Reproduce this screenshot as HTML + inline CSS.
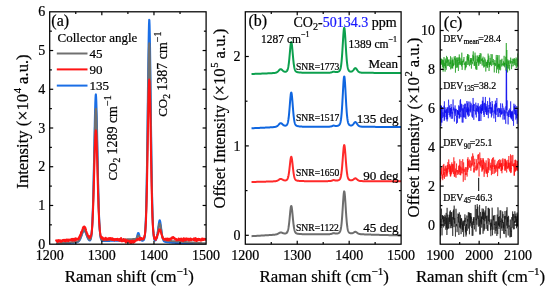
<!DOCTYPE html>
<html><head><meta charset="utf-8"><style>
html,body{margin:0;padding:0;background:#fff;width:550px;height:292px;overflow:hidden}
svg{display:block;will-change:transform}
</style></head><body>
<svg width="550" height="292" viewBox="0 0 550 292" font-family='"Liberation Serif", serif' fill="#000"><style>text{stroke:#000;stroke-width:0.22px} text tspan[fill]{stroke:#1a1aff}</style><clipPath id="clipA"><rect x="49.7" y="11.8" width="156.39999999999998" height="232.39999999999998"/></clipPath>
<g clip-path="url(#clipA)" fill="none" stroke-width="2" stroke-linejoin="round">
<path d="M55.96,243.80 L56.17,243.79 L56.39,243.77 L56.60,243.76 L56.82,243.75 L57.03,243.73 L57.24,243.72 L57.46,243.71 L57.67,243.70 L57.89,243.68 L58.10,243.67 L58.32,243.66 L58.53,243.64 L58.75,243.63 L58.96,243.62 L59.18,243.61 L59.39,243.59 L59.61,243.58 L59.82,243.57 L60.04,243.55 L60.25,243.54 L60.47,243.53 L60.68,243.51 L60.90,243.50 L61.11,243.49 L61.33,243.48 L61.54,243.46 L61.76,243.45 L61.97,243.44 L62.19,243.42 L62.40,243.41 L62.61,243.40 L62.83,243.38 L63.04,243.37 L63.26,243.36 L63.47,243.34 L63.69,243.33 L63.90,243.32 L64.12,243.30 L64.33,243.29 L64.55,243.28 L64.76,243.27 L64.98,243.25 L65.19,243.24 L65.41,243.23 L65.62,243.21 L65.84,243.20 L66.05,243.19 L66.27,243.17 L66.48,243.16 L66.70,243.15 L66.91,243.13 L67.13,243.12 L67.34,243.10 L67.56,243.09 L67.77,243.08 L67.98,243.06 L68.20,243.05 L68.41,243.04 L68.63,243.02 L68.84,243.01 L69.06,243.00 L69.27,242.98 L69.49,242.97 L69.70,242.95 L69.92,242.94 L70.13,242.93 L70.35,242.91 L70.56,242.90 L70.78,242.88 L70.99,242.87 L71.21,242.85 L71.42,242.84 L71.64,242.83 L71.85,242.81 L72.07,242.80 L72.28,242.78 L72.50,242.77 L72.71,242.75 L72.93,242.74 L73.14,242.72 L73.35,242.70 L73.57,242.69 L73.78,242.67 L74.00,242.66 L74.21,242.64 L74.43,242.62 L74.64,242.60 L74.86,242.58 L75.07,242.56 L75.29,242.54 L75.50,242.52 L75.72,242.49 L75.93,242.46 L76.15,242.43 L76.36,242.40 L76.58,242.36 L76.79,242.31 L77.01,242.25 L77.22,242.19 L77.44,242.11 L77.65,242.03 L77.87,241.92 L78.08,241.80 L78.30,241.66 L78.51,241.49 L78.72,241.30 L78.94,241.08 L79.15,240.83 L79.37,240.54 L79.58,240.22 L79.80,239.86 L80.01,239.46 L80.23,239.02 L80.44,238.55 L80.66,238.04 L80.87,237.50 L81.09,236.93 L81.30,236.33 L81.52,235.72 L81.73,235.10 L81.95,234.48 L82.16,233.87 L82.38,233.28 L82.59,232.71 L82.81,232.19 L83.02,231.73 L83.24,231.33 L83.45,231.00 L83.66,230.75 L83.88,230.59 L84.09,230.53 L84.31,230.55 L84.52,230.68 L84.74,230.89 L84.95,231.18 L85.17,231.55 L85.38,231.98 L85.60,232.47 L85.81,233.00 L86.03,233.56 L86.24,234.15 L86.46,234.74 L86.67,235.34 L86.89,235.93 L87.10,236.50 L87.32,237.05 L87.53,237.57 L87.75,238.05 L87.96,238.50 L88.18,238.91 L88.39,239.28 L88.61,239.60 L88.82,239.87 L89.03,240.10 L89.25,240.28 L89.46,240.39 L89.68,240.44 L89.89,240.40 L90.11,240.27 L90.32,240.02 L90.54,239.61 L90.75,239.01 L90.97,238.17 L91.18,237.03 L91.40,235.51 L91.61,233.55 L91.83,231.05 L92.04,227.93 L92.26,224.09 L92.47,219.44 L92.69,213.92 L92.90,207.46 L93.12,200.06 L93.33,191.72 L93.55,182.51 L93.76,172.55 L93.98,162.02 L94.19,151.16 L94.40,140.26 L94.62,129.67 L94.83,119.76 L95.05,110.94 L95.26,103.61 L95.48,98.14 L95.69,94.91 L95.91,94.38 L96.12,96.73 L96.34,101.45 L96.55,108.16 L96.77,116.50 L96.98,126.05 L97.20,136.43 L97.41,147.25 L97.63,158.14 L97.84,168.79 L98.06,178.95 L98.27,188.42 L98.49,197.05 L98.70,204.77 L98.92,211.53 L99.13,217.36 L99.35,222.29 L99.56,226.39 L99.77,229.75 L99.99,232.46 L100.20,234.60 L100.42,236.27 L100.63,237.56 L100.85,238.53 L101.06,239.26 L101.28,239.79 L101.49,240.17 L101.71,240.45 L101.92,240.64 L102.14,240.77 L102.35,240.86 L102.57,240.93 L102.78,240.96 L103.00,240.99 L103.21,241.00 L103.43,241.01 L103.64,241.01 L103.86,241.01 L104.07,241.01 L104.29,241.01 L104.50,241.00 L104.72,241.00 L104.93,241.00 L105.14,240.99 L105.36,240.99 L105.57,240.98 L105.79,240.98 L106.00,240.97 L106.22,240.97 L106.43,240.96 L106.65,240.96 L106.86,240.95 L107.08,240.95 L107.29,240.94 L107.51,240.94 L107.72,240.93 L107.94,240.93 L108.15,240.92 L108.37,240.92 L108.58,240.91 L108.80,240.90 L109.01,240.90 L109.23,240.89 L109.44,240.89 L109.66,240.88 L109.87,240.88 L110.09,240.87 L110.30,240.87 L110.51,240.86 L110.73,240.86 L110.94,240.85 L111.16,240.85 L111.37,240.84 L111.59,240.84 L111.80,240.83 L112.02,240.83 L112.23,240.82 L112.45,240.82 L112.66,240.81 L112.88,240.81 L113.09,240.80 L113.31,240.80 L113.52,240.79 L113.74,240.78 L113.95,240.78 L114.17,240.77 L114.38,240.77 L114.60,240.76 L114.81,240.76 L115.03,240.75 L115.24,240.75 L115.46,240.74 L115.67,240.74 L115.88,240.73 L116.10,240.73 L116.31,240.72 L116.53,240.72 L116.74,240.71 L116.96,240.70 L117.17,240.70 L117.39,240.69 L117.60,240.69 L117.82,240.68 L118.03,240.68 L118.25,240.67 L118.46,240.67 L118.68,240.66 L118.89,240.66 L119.11,240.65 L119.32,240.64 L119.54,240.64 L119.75,240.63 L119.97,240.63 L120.18,240.62 L120.40,240.62 L120.61,240.61 L120.83,240.61 L121.04,240.60 L121.25,240.59 L121.47,240.59 L121.68,240.58 L121.90,240.58 L122.11,240.57 L122.33,240.57 L122.54,240.56 L122.76,240.56 L122.97,240.55 L123.19,240.54 L123.40,240.54 L123.62,240.53 L123.83,240.53 L124.05,240.52 L124.26,240.52 L124.48,240.51 L124.69,240.50 L124.91,240.50 L125.12,240.49 L125.34,240.49 L125.55,240.48 L125.77,240.47 L125.98,240.47 L126.20,240.46 L126.41,240.46 L126.62,240.45 L126.84,240.44 L127.05,240.44 L127.27,240.43 L127.48,240.43 L127.70,240.42 L127.91,240.41 L128.13,240.41 L128.34,240.40 L128.56,240.39 L128.77,240.39 L128.99,240.38 L129.20,240.37 L129.42,240.37 L129.63,240.36 L129.85,240.35 L130.06,240.34 L130.28,240.34 L130.49,240.33 L130.71,240.32 L130.92,240.31 L131.14,240.30 L131.35,240.30 L131.56,240.29 L131.78,240.28 L131.99,240.27 L132.21,240.26 L132.42,240.25 L132.64,240.24 L132.85,240.23 L133.07,240.21 L133.28,240.22 L133.50,240.22 L133.71,240.22 L133.93,240.22 L134.14,240.22 L134.36,240.22 L134.57,240.20 L134.79,240.18 L135.00,240.14 L135.22,240.08 L135.43,239.98 L135.65,239.83 L135.86,239.61 L136.08,239.31 L136.29,238.90 L136.51,238.38 L136.72,237.74 L136.93,237.00 L137.15,236.17 L137.36,235.31 L137.58,234.47 L137.79,233.74 L138.01,233.19 L138.22,232.90 L138.44,232.92 L138.65,233.24 L138.87,233.83 L139.08,234.59 L139.30,235.46 L139.51,236.35 L139.73,237.20 L139.94,237.96 L140.16,238.62 L140.37,239.16 L140.59,239.59 L140.80,239.91 L141.02,240.15 L141.23,240.32 L141.45,240.45 L141.66,240.53 L141.88,240.59 L142.09,240.63 L142.30,240.65 L142.52,240.66 L142.73,240.66 L142.95,240.63 L143.16,240.56 L143.38,240.45 L143.59,240.28 L143.81,240.00 L144.02,239.60 L144.24,239.00 L144.45,238.15 L144.67,236.96 L144.88,235.32 L145.10,233.11 L145.31,230.18 L145.53,226.37 L145.74,221.50 L145.96,215.38 L146.17,207.86 L146.39,198.79 L146.60,188.06 L146.82,175.65 L147.03,161.59 L147.25,146.06 L147.46,129.31 L147.67,111.75 L147.89,93.89 L148.10,76.38 L148.32,59.92 L148.53,45.27 L148.75,33.22 L148.96,24.49 L149.18,19.80 L149.39,20.09 L149.61,25.25 L149.82,34.37 L150.04,46.75 L150.25,61.64 L150.47,78.27 L150.68,95.87 L150.90,113.73 L151.11,131.25 L151.33,147.90 L151.54,163.31 L151.76,177.22 L151.97,189.47 L152.19,200.04 L152.40,208.95 L152.62,216.33 L152.83,222.32 L153.04,227.08 L153.26,230.80 L153.47,233.66 L153.69,235.80 L153.90,237.39 L154.12,238.53 L154.33,239.33 L154.55,239.87 L154.76,240.22 L154.98,240.41 L155.19,240.48 L155.41,240.44 L155.62,240.31 L155.84,240.07 L156.05,239.73 L156.27,239.28 L156.48,238.69 L156.70,237.95 L156.91,237.05 L157.13,235.99 L157.34,234.75 L157.56,233.36 L157.77,231.81 L157.99,230.16 L158.20,228.43 L158.41,226.69 L158.63,225.01 L158.84,223.47 L159.06,222.14 L159.27,221.12 L159.49,220.48 L159.70,220.27 L159.92,220.52 L160.13,221.19 L160.35,222.25 L160.56,223.60 L160.78,225.18 L160.99,226.89 L161.21,228.66 L161.42,230.41 L161.64,232.09 L161.85,233.66 L162.07,235.08 L162.28,236.34 L162.50,237.43 L162.71,238.35 L162.93,239.12 L163.14,239.75 L163.36,240.25 L163.57,240.65 L163.78,240.96 L164.00,241.20 L164.21,241.39 L164.43,241.53 L164.64,241.65 L164.86,241.74 L165.07,241.81 L165.29,241.87 L165.50,241.92 L165.72,241.97 L165.93,242.01 L166.15,242.05 L166.36,242.08 L166.58,242.11 L166.79,242.14 L167.01,242.17 L167.22,242.20 L167.44,242.23 L167.65,242.25 L167.87,242.28 L168.08,242.30 L168.30,242.33 L168.51,242.35 L168.73,242.37 L168.94,242.39 L169.15,242.41 L169.37,242.43 L169.58,242.45 L169.80,242.47 L170.01,242.49 L170.23,242.51 L170.44,242.53 L170.66,242.55 L170.87,242.57 L171.09,242.59 L171.30,242.60 L171.52,242.62 L171.73,242.64 L171.95,242.66 L172.16,242.67 L172.38,242.69 L172.59,242.71 L172.81,242.72 L173.02,242.74 L173.24,242.76 L173.45,242.77 L173.67,242.79 L173.88,242.81 L174.10,242.82 L174.31,242.84 L174.52,242.85 L174.74,242.87 L174.95,242.89 L175.17,242.90 L175.38,242.92 L175.60,242.93 L175.81,242.95 L176.03,242.96 L176.24,242.98 L176.46,242.99 L176.67,243.01 L176.89,243.02 L177.10,243.04 L177.32,243.05 L177.53,243.07 L177.75,243.08 L177.96,243.10 L178.18,243.11 L178.39,243.13 L178.61,243.14 L178.82,243.16 L179.04,243.17 L179.25,243.19 L179.47,243.20 L179.68,243.22 L179.89,243.23 L180.11,243.25 L180.32,243.26 L180.54,243.28 L180.75,243.29 L180.97,243.31 L181.18,243.32 L181.40,243.34 L181.61,243.35 L181.83,243.37 L182.04,243.38 L182.26,243.39 L182.47,243.41 L182.69,243.42 L182.90,243.44 L183.12,243.45 L183.33,243.47 L183.55,243.48 L183.76,243.50 L183.98,243.51 L184.19,243.52 L184.41,243.54 L184.62,243.55 L184.83,243.57 L185.05,243.58 L185.26,243.60 L185.48,243.61 L185.69,243.62 L185.91,243.64 L186.12,243.65 L186.34,243.67 L186.55,243.68 L186.77,243.70 L186.98,243.71 L187.20,243.72 L187.41,243.74 L187.63,243.75 L187.84,243.77 L188.06,243.78 L188.27,243.80 L188.49,243.81 L188.70,243.82 L188.92,243.84 L189.13,243.85 L189.35,243.87 L189.56,243.88 L189.78,243.90 L189.99,243.91 L190.20,243.92 L190.42,243.94 L190.63,243.95 L190.85,243.97 L191.06,243.98 L191.28,243.99 L191.49,244.01 L191.71,244.02 L191.92,244.04 L192.14,244.05 L192.35,244.07 L192.57,244.08 L192.78,244.09 L193.00,244.11 L193.21,244.12 L193.43,244.14 L193.64,244.15 L193.86,244.16 L194.07,244.18 L194.29,244.19 L194.50,244.21 L194.72,244.22 L194.93,244.24 L195.15,244.25 L195.36,244.26 L195.57,244.28 L195.79,244.29 L196.00,244.31 L196.22,244.32 L196.43,244.33 L196.65,244.35 L196.86,244.36 L197.08,244.38 L197.29,244.39 L197.51,244.40 L197.72,244.42 L197.94,244.43 L198.15,244.45 L198.37,244.46 L198.58,244.47 L198.80,244.49 L199.01,244.50 L199.23,244.52 L199.44,244.53 L199.66,244.55 L199.87,244.56 L200.09,244.57 L200.30,244.59 L200.52,244.60 L200.73,244.62 L200.94,244.63 L201.16,244.64 L201.37,244.66 L201.59,244.67 L201.80,244.69 L202.02,244.70 L202.23,244.71 L202.45,244.73 L202.66,244.74 L202.88,244.76 L203.09,244.77 L203.31,244.78 L203.52,244.80 L203.74,244.81 L203.95,244.83 L204.17,244.84 L204.38,244.85 L204.60,244.87 L204.81,244.88 L205.03,244.90 L205.24,244.91 L205.46,244.92 L205.67,244.94 L205.89,244.95 L206.10,244.97" stroke="#1a6ee6"/>
<path d="M55.96,243.41 L56.17,243.40 L56.39,243.38 L56.60,243.37 L56.82,243.35 L57.03,243.34 L57.24,243.32 L57.46,243.31 L57.67,243.29 L57.89,243.28 L58.10,243.26 L58.32,243.25 L58.53,243.24 L58.75,243.22 L58.96,243.21 L59.18,243.19 L59.39,243.18 L59.61,243.16 L59.82,243.15 L60.04,243.13 L60.25,243.12 L60.47,243.10 L60.68,243.09 L60.90,243.07 L61.11,243.06 L61.33,243.04 L61.54,243.03 L61.76,243.01 L61.97,243.00 L62.19,242.98 L62.40,242.97 L62.61,242.95 L62.83,242.94 L63.04,242.92 L63.26,242.91 L63.47,242.89 L63.69,242.88 L63.90,242.86 L64.12,242.85 L64.33,242.83 L64.55,242.82 L64.76,242.80 L64.98,242.79 L65.19,242.77 L65.41,242.76 L65.62,242.74 L65.84,242.73 L66.05,242.71 L66.27,242.70 L66.48,242.68 L66.70,242.67 L66.91,242.65 L67.13,242.64 L67.34,242.62 L67.56,242.61 L67.77,242.59 L67.98,242.58 L68.20,242.56 L68.41,242.54 L68.63,242.53 L68.84,242.51 L69.06,242.50 L69.27,242.48 L69.49,242.47 L69.70,242.45 L69.92,242.44 L70.13,242.42 L70.35,242.40 L70.56,242.39 L70.78,242.37 L70.99,242.36 L71.21,242.34 L71.42,242.32 L71.64,242.31 L71.85,242.29 L72.07,242.27 L72.28,242.26 L72.50,242.24 L72.71,242.22 L72.93,242.21 L73.14,242.19 L73.35,242.17 L73.57,242.15 L73.78,242.13 L74.00,242.12 L74.21,242.10 L74.43,242.08 L74.64,242.06 L74.86,242.04 L75.07,242.02 L75.29,241.99 L75.50,241.97 L75.72,241.94 L75.93,241.91 L76.15,241.88 L76.36,241.84 L76.58,241.80 L76.79,241.75 L77.01,241.69 L77.22,241.62 L77.44,241.55 L77.65,241.46 L77.87,241.35 L78.08,241.23 L78.30,241.08 L78.51,240.91 L78.72,240.72 L78.94,240.50 L79.15,240.24 L79.37,239.96 L79.58,239.63 L79.80,239.27 L80.01,238.87 L80.23,238.43 L80.44,237.96 L80.66,237.45 L80.87,236.90 L81.09,236.33 L81.30,235.73 L81.52,235.12 L81.73,234.50 L81.95,233.87 L82.16,233.26 L82.38,232.67 L82.59,232.10 L82.81,231.58 L83.02,231.11 L83.24,230.71 L83.45,230.38 L83.66,230.13 L83.88,229.97 L84.09,229.90 L84.31,229.93 L84.52,230.05 L84.74,230.26 L84.95,230.55 L85.17,230.92 L85.38,231.35 L85.60,231.83 L85.81,232.36 L86.03,232.92 L86.24,233.51 L86.46,234.10 L86.67,234.69 L86.89,235.28 L87.10,235.85 L87.32,236.40 L87.53,236.91 L87.75,237.40 L87.96,237.85 L88.18,238.25 L88.39,238.62 L88.61,238.94 L88.82,239.22 L89.03,239.45 L89.25,239.62 L89.46,239.75 L89.68,239.80 L89.89,239.79 L90.11,239.68 L90.32,239.46 L90.54,239.10 L90.75,238.57 L90.97,237.81 L91.18,236.79 L91.40,235.44 L91.61,233.68 L91.83,231.43 L92.04,228.63 L92.26,225.18 L92.47,221.01 L92.69,216.05 L92.90,210.26 L93.12,203.61 L93.33,196.12 L93.55,187.86 L93.76,178.92 L93.98,169.47 L94.19,159.72 L94.40,149.93 L94.62,140.42 L94.83,131.53 L95.05,123.62 L95.26,117.03 L95.48,112.12 L95.69,109.22 L95.91,108.74 L96.12,110.85 L96.34,115.08 L96.55,121.10 L96.77,128.58 L96.98,137.15 L97.20,146.46 L97.41,156.16 L97.63,165.93 L97.84,175.49 L98.06,184.61 L98.27,193.10 L98.49,200.84 L98.70,207.76 L98.92,213.83 L99.13,219.06 L99.35,223.48 L99.56,227.16 L99.77,230.17 L99.99,232.59 L100.20,234.51 L100.42,236.01 L100.63,237.16 L100.85,238.04 L101.06,238.68 L101.28,239.16 L101.49,239.50 L101.71,239.74 L101.92,239.91 L102.14,240.03 L102.35,240.10 L102.57,240.16 L102.78,240.19 L103.00,240.21 L103.21,240.22 L103.43,240.22 L103.64,240.22 L103.86,240.22 L104.07,240.21 L104.29,240.21 L104.50,240.20 L104.72,240.19 L104.93,240.18 L105.14,240.18 L105.36,240.17 L105.57,240.16 L105.79,240.15 L106.00,240.15 L106.22,240.14 L106.43,240.13 L106.65,240.12 L106.86,240.12 L107.08,240.11 L107.29,240.10 L107.51,240.09 L107.72,240.09 L107.94,240.08 L108.15,240.07 L108.37,240.06 L108.58,240.05 L108.80,240.05 L109.01,240.04 L109.23,240.03 L109.44,240.02 L109.66,240.02 L109.87,240.01 L110.09,240.00 L110.30,239.99 L110.51,239.98 L110.73,239.98 L110.94,239.97 L111.16,239.96 L111.37,239.95 L111.59,239.95 L111.80,239.94 L112.02,239.93 L112.23,239.92 L112.45,239.91 L112.66,239.91 L112.88,239.90 L113.09,239.89 L113.31,239.88 L113.52,239.87 L113.74,239.87 L113.95,239.86 L114.17,239.85 L114.38,239.84 L114.60,239.83 L114.81,239.83 L115.03,239.82 L115.24,239.81 L115.46,239.80 L115.67,239.79 L115.88,239.79 L116.10,239.78 L116.31,239.77 L116.53,239.76 L116.74,239.75 L116.96,239.75 L117.17,239.74 L117.39,239.73 L117.60,239.72 L117.82,239.71 L118.03,239.71 L118.25,239.70 L118.46,239.69 L118.68,239.68 L118.89,239.67 L119.11,239.67 L119.32,239.66 L119.54,239.65 L119.75,239.64 L119.97,239.63 L120.18,239.63 L120.40,239.62 L120.61,239.61 L120.83,239.60 L121.04,239.59 L121.25,239.59 L121.47,239.58 L121.68,239.57 L121.90,239.56 L122.11,239.55 L122.33,239.55 L122.54,239.54 L122.76,239.53 L122.97,239.52 L123.19,239.51 L123.40,239.50 L123.62,239.50 L123.83,239.49 L124.05,239.48 L124.26,239.47 L124.48,239.46 L124.69,239.46 L124.91,239.45 L125.12,239.44 L125.34,239.43 L125.55,239.42 L125.77,239.41 L125.98,239.41 L126.20,239.40 L126.41,239.39 L126.62,239.38 L126.84,239.37 L127.05,239.36 L127.27,239.36 L127.48,239.35 L127.70,239.34 L127.91,239.33 L128.13,239.32 L128.34,239.31 L128.56,239.30 L128.77,239.30 L128.99,239.29 L129.20,239.28 L129.42,239.27 L129.63,239.26 L129.85,239.25 L130.06,239.24 L130.28,239.23 L130.49,239.22 L130.71,239.21 L130.92,239.20 L131.14,239.20 L131.35,239.19 L131.56,239.18 L131.78,239.17 L131.99,239.16 L132.21,239.15 L132.42,239.13 L132.64,239.12 L132.85,239.11 L133.07,239.10 L133.28,239.10 L133.50,239.11 L133.71,239.12 L133.93,239.12 L134.14,239.12 L134.36,239.12 L134.57,239.12 L134.79,239.11 L135.00,239.10 L135.22,239.07 L135.43,239.02 L135.65,238.95 L135.86,238.85 L136.08,238.70 L136.29,238.50 L136.51,238.25 L136.72,237.93 L136.93,237.56 L137.15,237.15 L137.36,236.72 L137.58,236.31 L137.79,235.95 L138.01,235.68 L138.22,235.53 L138.44,235.55 L138.65,235.71 L138.87,236.01 L139.08,236.40 L139.30,236.83 L139.51,237.28 L139.73,237.71 L139.94,238.10 L140.16,238.43 L140.37,238.70 L140.59,238.92 L140.80,239.09 L141.02,239.21 L141.23,239.30 L141.45,239.36 L141.66,239.41 L141.88,239.44 L142.09,239.46 L142.30,239.47 L142.52,239.47 L142.73,239.46 L142.95,239.43 L143.16,239.37 L143.38,239.26 L143.59,239.10 L143.81,238.86 L144.02,238.49 L144.24,237.96 L144.45,237.20 L144.67,236.14 L144.88,234.68 L145.10,232.72 L145.31,230.11 L145.53,226.72 L145.74,222.39 L145.96,216.96 L146.17,210.28 L146.39,202.22 L146.60,192.69 L146.82,181.66 L147.03,169.17 L147.25,155.37 L147.46,140.49 L147.67,124.89 L147.89,109.03 L148.10,93.47 L148.32,78.84 L148.53,65.83 L148.75,55.12 L148.96,47.37 L149.18,43.20 L149.39,43.46 L149.61,48.04 L149.82,56.15 L150.04,67.14 L150.25,80.37 L150.47,95.13 L150.68,110.77 L150.90,126.64 L151.11,142.20 L151.33,156.99 L151.54,170.68 L151.76,183.03 L151.97,193.91 L152.19,203.30 L152.40,211.22 L152.62,217.78 L152.83,223.09 L153.04,227.33 L153.26,230.63 L153.47,233.17 L153.69,235.08 L153.90,236.48 L154.12,237.50 L154.33,238.22 L154.55,238.71 L154.76,239.02 L154.98,239.20 L155.19,239.27 L155.41,239.26 L155.62,239.16 L155.84,238.98 L156.05,238.72 L156.27,238.36 L156.48,237.90 L156.70,237.32 L156.91,236.62 L157.13,235.78 L157.34,234.81 L157.56,233.71 L157.77,232.50 L157.99,231.20 L158.20,229.84 L158.41,228.48 L158.63,227.16 L158.84,225.94 L159.06,224.90 L159.27,224.10 L159.49,223.60 L159.70,223.43 L159.92,223.63 L160.13,224.16 L160.35,224.98 L160.56,226.05 L160.78,227.29 L160.99,228.63 L161.21,230.02 L161.42,231.40 L161.64,232.72 L161.85,233.95 L162.07,235.07 L162.28,236.06 L162.50,236.92 L162.71,237.64 L162.93,238.25 L163.14,238.74 L163.36,239.13 L163.57,239.44 L163.78,239.69 L164.00,239.88 L164.21,240.03 L164.43,240.14 L164.64,240.23 L164.86,240.31 L165.07,240.37 L165.29,240.42 L165.50,240.46 L165.72,240.50 L165.93,240.54 L166.15,240.57 L166.36,240.60 L166.58,240.63 L166.79,240.65 L167.01,240.68 L167.22,240.71 L167.44,240.73 L167.65,240.75 L167.87,240.77 L168.08,240.80 L168.30,240.82 L168.51,240.84 L168.73,240.86 L168.94,240.88 L169.15,240.90 L169.37,240.92 L169.58,240.94 L169.80,240.96 L170.01,240.97 L170.23,240.99 L170.44,241.01 L170.66,241.03 L170.87,241.04 L171.09,241.06 L171.30,241.08 L171.52,241.10 L171.73,241.11 L171.95,241.13 L172.16,241.15 L172.38,241.16 L172.59,241.18 L172.81,241.19 L173.02,241.21 L173.24,241.23 L173.45,241.24 L173.67,241.26 L173.88,241.27 L174.10,241.29 L174.31,241.30 L174.52,241.32 L174.74,241.33 L174.95,241.35 L175.17,241.37 L175.38,241.38 L175.60,241.40 L175.81,241.41 L176.03,241.43 L176.24,241.44 L176.46,241.46 L176.67,241.47 L176.89,241.49 L177.10,241.50 L177.32,241.52 L177.53,241.53 L177.75,241.55 L177.96,241.56 L178.18,241.58 L178.39,241.59 L178.61,241.60 L178.82,241.62 L179.04,241.63 L179.25,241.65 L179.47,241.66 L179.68,241.68 L179.89,241.69 L180.11,241.71 L180.32,241.72 L180.54,241.74 L180.75,241.75 L180.97,241.76 L181.18,241.78 L181.40,241.79 L181.61,241.81 L181.83,241.82 L182.04,241.84 L182.26,241.85 L182.47,241.87 L182.69,241.88 L182.90,241.89 L183.12,241.91 L183.33,241.92 L183.55,241.94 L183.76,241.95 L183.98,241.97 L184.19,241.98 L184.41,241.99 L184.62,242.01 L184.83,242.02 L185.05,242.04 L185.26,242.05 L185.48,242.07 L185.69,242.08 L185.91,242.09 L186.12,242.11 L186.34,242.12 L186.55,242.14 L186.77,242.15 L186.98,242.17 L187.20,242.18 L187.41,242.19 L187.63,242.21 L187.84,242.22 L188.06,242.24 L188.27,242.25 L188.49,242.27 L188.70,242.28 L188.92,242.29 L189.13,242.31 L189.35,242.32 L189.56,242.34 L189.78,242.35 L189.99,242.36 L190.20,242.38 L190.42,242.39 L190.63,242.41 L190.85,242.42 L191.06,242.44 L191.28,242.45 L191.49,242.46 L191.71,242.48 L191.92,242.49 L192.14,242.51 L192.35,242.52 L192.57,242.53 L192.78,242.55 L193.00,242.56 L193.21,242.58 L193.43,242.59 L193.64,242.60 L193.86,242.62 L194.07,242.63 L194.29,242.65 L194.50,242.66 L194.72,242.67 L194.93,242.69 L195.15,242.70 L195.36,242.72 L195.57,242.73 L195.79,242.75 L196.00,242.76 L196.22,242.77 L196.43,242.79 L196.65,242.80 L196.86,242.82 L197.08,242.83 L197.29,242.84 L197.51,242.86 L197.72,242.87 L197.94,242.89 L198.15,242.90 L198.37,242.91 L198.58,242.93 L198.80,242.94 L199.01,242.96 L199.23,242.97 L199.44,242.98 L199.66,243.00 L199.87,243.01 L200.09,243.03 L200.30,243.04 L200.52,243.05 L200.73,243.07 L200.94,243.08 L201.16,243.10 L201.37,243.11 L201.59,243.12 L201.80,243.14 L202.02,243.15 L202.23,243.17 L202.45,243.18 L202.66,243.19 L202.88,243.21 L203.09,243.22 L203.31,243.24 L203.52,243.25 L203.74,243.26 L203.95,243.28 L204.17,243.29 L204.38,243.31 L204.60,243.32 L204.81,243.34 L205.03,243.35 L205.24,243.36 L205.46,243.38 L205.67,243.39 L205.89,243.41 L206.10,243.42" stroke="#707070"/>
<path d="M55.96,241.07 L56.17,240.28 L56.39,240.34 L56.60,241.34 L56.82,241.20 L57.03,241.31 L57.24,240.66 L57.46,241.01 L57.67,240.52 L57.89,242.02 L58.10,240.02 L58.32,240.97 L58.53,240.50 L58.75,240.96 L58.96,241.08 L59.18,240.58 L59.39,240.35 L59.61,240.93 L59.82,240.89 L60.04,240.38 L60.25,241.27 L60.47,241.63 L60.68,240.50 L60.90,241.10 L61.11,241.81 L61.33,241.16 L61.54,240.94 L61.76,241.34 L61.97,241.50 L62.19,240.60 L62.40,240.08 L62.61,240.72 L62.83,241.00 L63.04,240.33 L63.26,240.12 L63.47,240.69 L63.69,240.19 L63.90,239.88 L64.12,240.59 L64.33,240.93 L64.55,240.23 L64.76,240.28 L64.98,239.76 L65.19,241.13 L65.41,240.75 L65.62,240.84 L65.84,241.34 L66.05,240.25 L66.27,240.00 L66.48,240.72 L66.70,239.46 L66.91,239.78 L67.13,239.87 L67.34,239.99 L67.56,239.65 L67.77,240.96 L67.98,239.81 L68.20,239.80 L68.41,241.16 L68.63,239.92 L68.84,240.25 L69.06,239.63 L69.27,240.32 L69.49,240.06 L69.70,239.83 L69.92,240.52 L70.13,239.65 L70.35,240.04 L70.56,239.68 L70.78,240.25 L70.99,239.30 L71.21,239.56 L71.42,239.99 L71.64,239.51 L71.85,239.12 L72.07,238.80 L72.28,240.73 L72.50,239.29 L72.71,239.51 L72.93,239.82 L73.14,240.33 L73.35,238.99 L73.57,240.44 L73.78,239.36 L74.00,238.91 L74.21,240.57 L74.43,239.80 L74.64,240.36 L74.86,239.44 L75.07,238.68 L75.29,238.35 L75.50,240.54 L75.72,239.81 L75.93,239.03 L76.15,238.49 L76.36,239.12 L76.58,239.75 L76.79,239.09 L77.01,239.22 L77.22,239.26 L77.44,239.49 L77.65,238.75 L77.87,238.69 L78.08,238.80 L78.30,238.72 L78.51,239.17 L78.72,238.50 L78.94,237.29 L79.15,237.83 L79.37,238.26 L79.58,236.31 L79.80,236.39 L80.01,235.06 L80.23,235.78 L80.44,235.58 L80.66,235.62 L80.87,233.43 L81.09,232.10 L81.30,233.44 L81.52,232.69 L81.73,231.31 L81.95,231.48 L82.16,230.51 L82.38,229.92 L82.59,229.01 L82.81,227.94 L83.02,228.07 L83.24,227.12 L83.45,227.55 L83.66,226.86 L83.88,228.13 L84.09,227.66 L84.31,226.39 L84.52,227.33 L84.74,226.88 L84.95,227.21 L85.17,227.16 L85.38,227.92 L85.60,228.33 L85.81,229.55 L86.03,230.50 L86.24,231.14 L86.46,231.64 L86.67,232.65 L86.89,232.94 L87.10,233.29 L87.32,233.68 L87.53,234.58 L87.75,236.03 L87.96,235.43 L88.18,235.70 L88.39,235.60 L88.61,236.25 L88.82,237.27 L89.03,237.57 L89.25,236.19 L89.46,237.07 L89.68,236.54 L89.89,236.39 L90.11,238.05 L90.32,237.20 L90.54,236.89 L90.75,236.41 L90.97,235.82 L91.18,235.20 L91.40,234.11 L91.61,233.65 L91.83,231.04 L92.04,229.09 L92.26,225.75 L92.47,222.68 L92.69,217.98 L92.90,213.11 L93.12,207.96 L93.33,201.81 L93.55,195.15 L93.76,188.13 L93.98,180.21 L94.19,172.40 L94.40,163.85 L94.62,156.27 L94.83,148.64 L95.05,143.25 L95.26,136.56 L95.48,133.49 L95.69,131.09 L95.91,130.39 L96.12,132.34 L96.34,135.32 L96.55,140.77 L96.77,147.19 L96.98,154.11 L97.20,160.50 L97.41,169.21 L97.63,177.93 L97.84,185.10 L98.06,193.50 L98.27,198.53 L98.49,206.82 L98.70,211.34 L98.92,216.28 L99.13,221.74 L99.35,224.35 L99.56,226.97 L99.77,229.75 L99.99,231.86 L100.20,233.04 L100.42,234.73 L100.63,235.58 L100.85,236.57 L101.06,236.66 L101.28,237.96 L101.49,237.24 L101.71,238.19 L101.92,238.68 L102.14,237.96 L102.35,237.28 L102.57,237.77 L102.78,238.68 L103.00,238.02 L103.21,238.72 L103.43,238.55 L103.64,238.45 L103.86,239.87 L104.07,238.44 L104.29,239.17 L104.50,238.99 L104.72,239.46 L104.93,239.51 L105.14,239.19 L105.36,238.18 L105.57,237.72 L105.79,238.72 L106.00,238.09 L106.22,238.89 L106.43,239.87 L106.65,238.69 L106.86,238.54 L107.08,239.06 L107.29,238.66 L107.51,238.52 L107.72,239.37 L107.94,239.75 L108.15,239.03 L108.37,239.05 L108.58,239.15 L108.80,238.39 L109.01,237.98 L109.23,239.24 L109.44,238.61 L109.66,238.49 L109.87,238.64 L110.09,238.46 L110.30,239.32 L110.51,238.68 L110.73,237.95 L110.94,238.68 L111.16,239.53 L111.37,238.83 L111.59,238.47 L111.80,239.01 L112.02,239.57 L112.23,238.36 L112.45,240.00 L112.66,239.00 L112.88,239.32 L113.09,240.02 L113.31,238.64 L113.52,239.17 L113.74,240.06 L113.95,239.05 L114.17,239.67 L114.38,240.55 L114.60,239.86 L114.81,239.32 L115.03,239.13 L115.24,239.42 L115.46,239.51 L115.67,239.28 L115.88,239.69 L116.10,238.90 L116.31,239.52 L116.53,239.45 L116.74,239.33 L116.96,240.28 L117.17,240.09 L117.39,238.81 L117.60,239.52 L117.82,239.90 L118.03,239.55 L118.25,240.05 L118.46,239.63 L118.68,240.19 L118.89,239.67 L119.11,240.76 L119.32,239.09 L119.54,240.18 L119.75,240.82 L119.97,240.05 L120.18,240.16 L120.40,239.90 L120.61,240.70 L120.83,239.84 L121.04,238.01 L121.25,240.90 L121.47,240.01 L121.68,240.43 L121.90,240.18 L122.11,241.38 L122.33,241.04 L122.54,240.15 L122.76,240.48 L122.97,239.55 L123.19,240.95 L123.40,240.48 L123.62,238.94 L123.83,241.12 L124.05,241.24 L124.26,240.78 L124.48,240.82 L124.69,240.35 L124.91,240.81 L125.12,241.37 L125.34,240.85 L125.55,239.48 L125.77,240.31 L125.98,242.71 L126.20,241.22 L126.41,241.69 L126.62,240.86 L126.84,241.37 L127.05,240.19 L127.27,240.81 L127.48,240.88 L127.70,241.33 L127.91,241.50 L128.13,241.28 L128.34,240.72 L128.56,241.17 L128.77,241.68 L128.99,240.73 L129.20,241.36 L129.42,241.52 L129.63,241.94 L129.85,241.80 L130.06,241.85 L130.28,243.10 L130.49,240.88 L130.71,241.15 L130.92,241.60 L131.14,240.87 L131.35,241.22 L131.56,241.26 L131.78,242.91 L131.99,241.61 L132.21,241.17 L132.42,240.54 L132.64,240.41 L132.85,240.65 L133.07,242.15 L133.28,242.75 L133.50,241.14 L133.71,241.46 L133.93,240.91 L134.14,241.55 L134.36,241.24 L134.57,242.13 L134.79,240.88 L135.00,241.29 L135.22,240.72 L135.43,240.54 L135.65,240.77 L135.86,240.40 L136.08,240.48 L136.29,239.92 L136.51,239.96 L136.72,240.46 L136.93,240.37 L137.15,238.90 L137.36,239.86 L137.58,239.11 L137.79,239.35 L138.01,239.79 L138.22,239.79 L138.44,239.17 L138.65,238.98 L138.87,238.66 L139.08,239.64 L139.30,239.14 L139.51,238.82 L139.73,237.84 L139.94,240.14 L140.16,238.52 L140.37,239.10 L140.59,238.54 L140.80,239.08 L141.02,238.59 L141.23,237.90 L141.45,238.61 L141.66,238.57 L141.88,238.60 L142.09,239.26 L142.30,238.50 L142.52,238.93 L142.73,239.26 L142.95,238.78 L143.16,238.84 L143.38,238.18 L143.59,238.51 L143.81,238.58 L144.02,237.13 L144.24,236.97 L144.45,236.18 L144.67,235.70 L144.88,234.94 L145.10,233.52 L145.31,231.32 L145.53,227.85 L145.74,224.82 L145.96,221.34 L146.17,215.08 L146.39,209.33 L146.60,200.68 L146.82,192.52 L147.03,182.42 L147.25,170.42 L147.46,158.46 L147.67,146.72 L147.89,132.45 L148.10,119.00 L148.32,109.25 L148.53,96.77 L148.75,89.53 L148.96,83.13 L149.18,79.57 L149.39,80.51 L149.61,82.63 L149.82,89.67 L150.04,99.32 L150.25,109.77 L150.47,122.47 L150.68,134.48 L150.90,146.61 L151.11,160.77 L151.33,172.03 L151.54,182.80 L151.76,192.29 L151.97,200.95 L152.19,209.62 L152.40,216.21 L152.62,220.84 L152.83,225.62 L153.04,229.03 L153.26,230.90 L153.47,232.61 L153.69,234.99 L153.90,236.40 L154.12,236.78 L154.33,238.80 L154.55,238.12 L154.76,238.99 L154.98,237.15 L155.19,238.20 L155.41,238.55 L155.62,238.70 L155.84,239.95 L156.05,237.93 L156.27,237.19 L156.48,238.29 L156.70,237.13 L156.91,236.69 L157.13,237.52 L157.34,235.50 L157.56,234.61 L157.77,234.55 L157.99,233.95 L158.20,232.65 L158.41,233.20 L158.63,231.47 L158.84,230.19 L159.06,230.91 L159.27,229.14 L159.49,229.67 L159.70,230.54 L159.92,229.50 L160.13,230.32 L160.35,230.06 L160.56,231.55 L160.78,230.99 L160.99,232.83 L161.21,233.01 L161.42,234.38 L161.64,235.00 L161.85,234.85 L162.07,236.08 L162.28,237.01 L162.50,238.02 L162.71,237.05 L162.93,237.65 L163.14,238.56 L163.36,238.46 L163.57,239.38 L163.78,239.52 L164.00,239.52 L164.21,238.92 L164.43,239.02 L164.64,239.67 L164.86,238.84 L165.07,238.84 L165.29,239.22 L165.50,238.73 L165.72,239.52 L165.93,239.43 L166.15,239.09 L166.36,239.40 L166.58,238.92 L166.79,240.12 L167.01,238.56 L167.22,239.85 L167.44,239.49 L167.65,240.20 L167.87,239.05 L168.08,238.66 L168.30,238.77 L168.51,238.90 L168.73,240.29 L168.94,239.82 L169.15,239.62 L169.37,239.87 L169.58,238.64 L169.80,239.13 L170.01,239.19 L170.23,238.82 L170.44,239.56 L170.66,239.41 L170.87,239.26 L171.09,238.31 L171.30,238.23 L171.52,237.92 L171.73,237.45 L171.95,238.69 L172.16,238.09 L172.38,237.56 L172.59,238.37 L172.81,237.89 L173.02,237.04 L173.24,237.08 L173.45,237.24 L173.67,238.00 L173.88,238.33 L174.10,237.76 L174.31,238.78 L174.52,238.53 L174.74,238.10 L174.95,239.21 L175.17,239.46 L175.38,239.19 L175.60,238.91 L175.81,239.03 L176.03,239.27 L176.24,239.07 L176.46,240.34 L176.67,239.93 L176.89,239.35 L177.10,240.00 L177.32,240.24 L177.53,240.17 L177.75,240.01 L177.96,239.59 L178.18,240.08 L178.39,239.35 L178.61,238.51 L178.82,239.58 L179.04,238.76 L179.25,239.33 L179.47,240.15 L179.68,239.66 L179.89,240.08 L180.11,239.06 L180.32,240.18 L180.54,238.74 L180.75,239.18 L180.97,240.69 L181.18,239.06 L181.40,238.62 L181.61,239.98 L181.83,238.95 L182.04,240.57 L182.26,239.38 L182.47,240.49 L182.69,239.24 L182.90,240.56 L183.12,241.06 L183.33,239.30 L183.55,238.20 L183.76,239.87 L183.98,239.05 L184.19,239.46 L184.41,239.72 L184.62,239.17 L184.83,238.58 L185.05,240.25 L185.26,239.20 L185.48,239.33 L185.69,240.36 L185.91,238.60 L186.12,238.40 L186.34,240.09 L186.55,238.52 L186.77,239.50 L186.98,239.63 L187.20,238.66 L187.41,239.40 L187.63,239.35 L187.84,238.65 L188.06,238.79 L188.27,239.02 L188.49,240.35 L188.70,240.45 L188.92,238.88 L189.13,240.08 L189.35,239.45 L189.56,240.16 L189.78,239.65 L189.99,240.28 L190.20,238.59 L190.42,240.13 L190.63,239.61 L190.85,239.65 L191.06,238.84 L191.28,240.37 L191.49,239.56 L191.71,239.66 L191.92,239.23 L192.14,239.27 L192.35,239.81 L192.57,239.40 L192.78,239.76 L193.00,239.27 L193.21,239.60 L193.43,239.92 L193.64,239.56 L193.86,239.33 L194.07,238.23 L194.29,239.83 L194.50,239.36 L194.72,238.69 L194.93,240.75 L195.15,240.56 L195.36,240.23 L195.57,239.61 L195.79,238.13 L196.00,239.32 L196.22,238.84 L196.43,239.67 L196.65,240.98 L196.86,240.89 L197.08,238.95 L197.29,239.44 L197.51,240.30 L197.72,238.90 L197.94,240.44 L198.15,238.89 L198.37,238.70 L198.58,239.99 L198.80,240.19 L199.01,239.05 L199.23,240.18 L199.44,239.04 L199.66,240.24 L199.87,239.08 L200.09,239.49 L200.30,239.80 L200.52,240.07 L200.73,239.41 L200.94,240.65 L201.16,239.71 L201.37,239.78 L201.59,239.15 L201.80,240.27 L202.02,238.55 L202.23,239.73 L202.45,240.21 L202.66,238.74 L202.88,238.58 L203.09,239.66 L203.31,240.06 L203.52,239.54 L203.74,239.95 L203.95,239.73 L204.17,238.64 L204.38,239.32 L204.60,239.46 L204.81,239.35 L205.03,239.58 L205.24,239.06 L205.46,239.04 L205.67,239.76 L205.89,239.49 L206.10,238.14" stroke="#ff1414"/>
</g>
<clipPath id="clipB"><rect x="245.3" y="11.8" width="155.8" height="232.39999999999998"/></clipPath>
<g clip-path="url(#clipB)" fill="none" stroke-width="2" stroke-linejoin="round">
<path d="M251.53,236.17 L251.75,236.15 L251.96,236.14 L252.17,236.13 L252.39,236.12 L252.60,236.10 L252.82,236.09 L253.03,236.08 L253.24,236.07 L253.46,236.05 L253.67,236.04 L253.89,236.03 L254.10,236.02 L254.31,236.00 L254.53,235.99 L254.74,235.98 L254.96,235.97 L255.17,235.95 L255.38,235.94 L255.60,235.93 L255.81,235.92 L256.03,235.90 L256.24,235.89 L256.45,235.88 L256.67,235.86 L256.88,235.85 L257.10,235.84 L257.31,235.83 L257.52,235.81 L257.74,235.80 L257.95,235.79 L258.17,235.78 L258.38,235.76 L258.59,235.75 L258.81,235.74 L259.02,235.72 L259.24,235.71 L259.45,235.70 L259.66,235.69 L259.88,235.67 L260.09,235.66 L260.30,235.65 L260.52,235.63 L260.73,235.62 L260.95,235.61 L261.16,235.60 L261.37,235.58 L261.59,235.57 L261.80,235.56 L262.02,235.54 L262.23,235.53 L262.44,235.52 L262.66,235.51 L262.87,235.49 L263.09,235.48 L263.30,235.47 L263.51,235.45 L263.73,235.44 L263.94,235.43 L264.16,235.41 L264.37,235.40 L264.58,235.39 L264.80,235.37 L265.01,235.36 L265.23,235.35 L265.44,235.33 L265.65,235.32 L265.87,235.31 L266.08,235.29 L266.30,235.28 L266.51,235.27 L266.72,235.25 L266.94,235.24 L267.15,235.23 L267.37,235.21 L267.58,235.20 L267.79,235.18 L268.01,235.17 L268.22,235.16 L268.44,235.14 L268.65,235.13 L268.86,235.12 L269.08,235.10 L269.29,235.09 L269.51,235.07 L269.72,235.06 L269.93,235.04 L270.15,235.03 L270.36,235.01 L270.58,235.00 L270.79,234.99 L271.00,234.97 L271.22,234.96 L271.43,234.94 L271.65,234.92 L271.86,234.91 L272.07,234.89 L272.29,234.88 L272.50,234.86 L272.72,234.84 L272.93,234.83 L273.14,234.81 L273.36,234.79 L273.57,234.78 L273.79,234.76 L274.00,234.74 L274.21,234.72 L274.43,234.70 L274.64,234.67 L274.86,234.65 L275.07,234.62 L275.28,234.59 L275.50,234.56 L275.71,234.52 L275.93,234.48 L276.14,234.44 L276.35,234.39 L276.57,234.33 L276.78,234.26 L276.99,234.19 L277.21,234.11 L277.42,234.02 L277.64,233.93 L277.85,233.82 L278.06,233.71 L278.28,233.59 L278.49,233.47 L278.71,233.34 L278.92,233.21 L279.13,233.08 L279.35,232.96 L279.56,232.84 L279.78,232.73 L279.99,232.64 L280.20,232.57 L280.42,232.51 L280.63,232.48 L280.85,232.47 L281.06,232.49 L281.27,232.52 L281.49,232.57 L281.70,232.64 L281.92,232.71 L282.13,232.79 L282.34,232.87 L282.56,232.95 L282.77,233.04 L282.99,233.12 L283.20,233.20 L283.41,233.28 L283.63,233.34 L283.84,233.39 L284.06,233.43 L284.27,233.47 L284.48,233.49 L284.70,233.50 L284.91,233.50 L285.13,233.49 L285.34,233.47 L285.55,233.43 L285.77,233.38 L285.98,233.31 L286.20,233.22 L286.41,233.11 L286.62,232.95 L286.84,232.76 L287.05,232.50 L287.27,232.17 L287.48,231.74 L287.69,231.20 L287.91,230.52 L288.12,229.69 L288.34,228.67 L288.55,227.45 L288.76,226.02 L288.98,224.38 L289.19,222.54 L289.41,220.52 L289.62,218.35 L289.83,216.11 L290.05,213.85 L290.26,211.68 L290.48,209.69 L290.69,208.02 L290.90,206.78 L291.12,206.07 L291.33,205.97 L291.55,206.47 L291.76,207.54 L291.97,209.08 L292.19,210.97 L292.40,213.10 L292.62,215.34 L292.83,217.60 L293.04,219.80 L293.26,221.88 L293.47,223.79 L293.68,225.50 L293.90,227.00 L294.11,228.30 L294.33,229.38 L294.54,230.29 L294.75,231.02 L294.97,231.61 L295.18,232.08 L295.40,232.44 L295.61,232.73 L295.82,232.95 L296.04,233.13 L296.25,233.27 L296.47,233.38 L296.68,233.47 L296.89,233.55 L297.11,233.61 L297.32,233.66 L297.54,233.71 L297.75,233.75 L297.96,233.79 L298.18,233.82 L298.39,233.85 L298.61,233.88 L298.82,233.91 L299.03,233.93 L299.25,233.96 L299.46,233.98 L299.68,233.99 L299.89,234.01 L300.10,234.03 L300.32,234.04 L300.53,234.06 L300.75,234.07 L300.96,234.09 L301.17,234.10 L301.39,234.11 L301.60,234.12 L301.82,234.13 L302.03,234.14 L302.24,234.15 L302.46,234.15 L302.67,234.16 L302.89,234.17 L303.10,234.18 L303.31,234.18 L303.53,234.19 L303.74,234.20 L303.96,234.20 L304.17,234.21 L304.38,234.21 L304.60,234.22 L304.81,234.22 L305.03,234.23 L305.24,234.23 L305.45,234.23 L305.67,234.24 L305.88,234.24 L306.10,234.24 L306.31,234.25 L306.52,234.25 L306.74,234.25 L306.95,234.26 L307.17,234.26 L307.38,234.26 L307.59,234.26 L307.81,234.27 L308.02,234.27 L308.24,234.27 L308.45,234.27 L308.66,234.27 L308.88,234.28 L309.09,234.28 L309.31,234.28 L309.52,234.28 L309.73,234.28 L309.95,234.28 L310.16,234.29 L310.37,234.29 L310.59,234.29 L310.80,234.29 L311.02,234.29 L311.23,234.29 L311.44,234.29 L311.66,234.29 L311.87,234.29 L312.09,234.29 L312.30,234.30 L312.51,234.30 L312.73,234.30 L312.94,234.30 L313.16,234.30 L313.37,234.30 L313.58,234.30 L313.80,234.30 L314.01,234.30 L314.23,234.30 L314.44,234.30 L314.65,234.30 L314.87,234.30 L315.08,234.30 L315.30,234.30 L315.51,234.30 L315.72,234.30 L315.94,234.30 L316.15,234.30 L316.37,234.30 L316.58,234.30 L316.79,234.30 L317.01,234.30 L317.22,234.30 L317.44,234.30 L317.65,234.30 L317.86,234.30 L318.08,234.30 L318.29,234.30 L318.51,234.30 L318.72,234.30 L318.93,234.30 L319.15,234.30 L319.36,234.29 L319.58,234.29 L319.79,234.29 L320.00,234.29 L320.22,234.29 L320.43,234.29 L320.65,234.29 L320.86,234.29 L321.07,234.29 L321.29,234.29 L321.50,234.28 L321.72,234.28 L321.93,234.28 L322.14,234.28 L322.36,234.28 L322.57,234.28 L322.79,234.28 L323.00,234.27 L323.21,234.27 L323.43,234.27 L323.64,234.27 L323.86,234.27 L324.07,234.26 L324.28,234.26 L324.50,234.26 L324.71,234.26 L324.93,234.25 L325.14,234.25 L325.35,234.25 L325.57,234.25 L325.78,234.24 L326.00,234.24 L326.21,234.24 L326.42,234.23 L326.64,234.23 L326.85,234.23 L327.06,234.22 L327.28,234.22 L327.49,234.21 L327.71,234.21 L327.92,234.20 L328.13,234.20 L328.35,234.19 L328.56,234.19 L328.78,234.18 L328.99,234.17 L329.20,234.16 L329.42,234.15 L329.63,234.14 L329.85,234.13 L330.06,234.11 L330.27,234.09 L330.49,234.07 L330.70,234.03 L330.92,234.00 L331.13,233.95 L331.34,233.89 L331.56,233.83 L331.77,233.76 L331.99,233.67 L332.20,233.58 L332.41,233.49 L332.63,233.40 L332.84,233.31 L333.06,233.23 L333.27,233.17 L333.48,233.13 L333.70,233.12 L333.91,233.13 L334.13,233.16 L334.34,233.21 L334.55,233.27 L334.77,233.33 L334.98,233.40 L335.20,233.45 L335.41,233.50 L335.62,233.54 L335.84,233.57 L336.05,233.59 L336.27,233.60 L336.48,233.59 L336.69,233.58 L336.91,233.56 L337.12,233.53 L337.34,233.49 L337.55,233.45 L337.76,233.40 L337.98,233.34 L338.19,233.27 L338.41,233.19 L338.62,233.09 L338.83,232.98 L339.05,232.84 L339.26,232.67 L339.48,232.46 L339.69,232.19 L339.90,231.84 L340.12,231.40 L340.33,230.83 L340.55,230.11 L340.76,229.20 L340.97,228.07 L341.19,226.68 L341.40,225.01 L341.62,223.03 L341.83,220.72 L342.04,218.10 L342.26,215.19 L342.47,212.02 L342.69,208.68 L342.90,205.26 L343.11,201.88 L343.33,198.70 L343.54,195.88 L343.75,193.61 L343.97,192.07 L344.18,191.39 L344.40,191.64 L344.61,192.79 L344.82,194.73 L345.04,197.31 L345.25,200.35 L345.47,203.66 L345.68,207.08 L345.89,210.47 L346.11,213.72 L346.32,216.76 L346.54,219.52 L346.75,221.97 L346.96,224.10 L347.18,225.92 L347.39,227.44 L347.61,228.68 L347.82,229.69 L348.03,230.49 L348.25,231.12 L348.46,231.62 L348.68,232.01 L348.89,232.31 L349.10,232.54 L349.32,232.73 L349.53,232.87 L349.75,232.99 L349.96,233.08 L350.17,233.16 L350.39,233.22 L350.60,233.27 L350.82,233.31 L351.03,233.34 L351.24,233.35 L351.46,233.35 L351.67,233.34 L351.89,233.32 L352.10,233.28 L352.31,233.23 L352.53,233.16 L352.74,233.08 L352.96,232.98 L353.17,232.87 L353.38,232.75 L353.60,232.62 L353.81,232.48 L354.03,232.34 L354.24,232.21 L354.45,232.09 L354.67,231.98 L354.88,231.90 L355.10,231.85 L355.31,231.83 L355.52,231.84 L355.74,231.89 L355.95,231.98 L356.17,232.09 L356.38,232.23 L356.59,232.38 L356.81,232.54 L357.02,232.70 L357.24,232.86 L357.45,233.02 L357.66,233.17 L357.88,233.31 L358.09,233.44 L358.31,233.56 L358.52,233.66 L358.73,233.75 L358.95,233.83 L359.16,233.89 L359.38,233.95 L359.59,234.00 L359.80,234.04 L360.02,234.08 L360.23,234.11 L360.44,234.14 L360.66,234.16 L360.87,234.18 L361.09,234.20 L361.30,234.22 L361.51,234.24 L361.73,234.25 L361.94,234.26 L362.16,234.28 L362.37,234.29 L362.58,234.30 L362.80,234.31 L363.01,234.32 L363.23,234.33 L363.44,234.34 L363.65,234.35 L363.87,234.36 L364.08,234.37 L364.30,234.38 L364.51,234.39 L364.72,234.40 L364.94,234.41 L365.15,234.42 L365.37,234.43 L365.58,234.44 L365.79,234.44 L366.01,234.45 L366.22,234.46 L366.44,234.47 L366.65,234.48 L366.86,234.48 L367.08,234.49 L367.29,234.50 L367.51,234.51 L367.72,234.52 L367.93,234.52 L368.15,234.53 L368.36,234.54 L368.58,234.55 L368.79,234.55 L369.00,234.56 L369.22,234.57 L369.43,234.57 L369.65,234.58 L369.86,234.59 L370.07,234.60 L370.29,234.60 L370.50,234.61 L370.72,234.62 L370.93,234.62 L371.14,234.63 L371.36,234.64 L371.57,234.64 L371.79,234.65 L372.00,234.66 L372.21,234.66 L372.43,234.67 L372.64,234.68 L372.86,234.68 L373.07,234.69 L373.28,234.70 L373.50,234.70 L373.71,234.71 L373.93,234.72 L374.14,234.72 L374.35,234.73 L374.57,234.73 L374.78,234.74 L375.00,234.75 L375.21,234.75 L375.42,234.76 L375.64,234.77 L375.85,234.77 L376.07,234.78 L376.28,234.79 L376.49,234.79 L376.71,234.80 L376.92,234.80 L377.13,234.81 L377.35,234.82 L377.56,234.82 L377.78,234.83 L377.99,234.83 L378.20,234.84 L378.42,234.85 L378.63,234.85 L378.85,234.86 L379.06,234.87 L379.27,234.87 L379.49,234.88 L379.70,234.88 L379.92,234.89 L380.13,234.90 L380.34,234.90 L380.56,234.91 L380.77,234.91 L380.99,234.92 L381.20,234.93 L381.41,234.93 L381.63,234.94 L381.84,234.94 L382.06,234.95 L382.27,234.96 L382.48,234.96 L382.70,234.97 L382.91,234.97 L383.13,234.98 L383.34,234.98 L383.55,234.99 L383.77,235.00 L383.98,235.00 L384.20,235.01 L384.41,235.01 L384.62,235.02 L384.84,235.03 L385.05,235.03 L385.27,235.04 L385.48,235.04 L385.69,235.05 L385.91,235.06 L386.12,235.06 L386.34,235.07 L386.55,235.07 L386.76,235.08 L386.98,235.08 L387.19,235.09 L387.41,235.10 L387.62,235.10 L387.83,235.11 L388.05,235.11 L388.26,235.12 L388.48,235.12 L388.69,235.13 L388.90,235.14 L389.12,235.14 L389.33,235.15 L389.55,235.15 L389.76,235.16 L389.97,235.17 L390.19,235.17 L390.40,235.18 L390.62,235.18 L390.83,235.19 L391.04,235.19 L391.26,235.20 L391.47,235.21 L391.69,235.21 L391.90,235.22 L392.11,235.22 L392.33,235.23 L392.54,235.23 L392.76,235.24 L392.97,235.25 L393.18,235.25 L393.40,235.26 L393.61,235.26 L393.82,235.27 L394.04,235.27 L394.25,235.28 L394.47,235.29 L394.68,235.29 L394.89,235.30 L395.11,235.30 L395.32,235.31 L395.54,235.31 L395.75,235.32 L395.96,235.33 L396.18,235.33 L396.39,235.34 L396.61,235.34 L396.82,235.35 L397.03,235.35 L397.25,235.36 L397.46,235.37 L397.68,235.37 L397.89,235.38 L398.10,235.38 L398.32,235.39 L398.53,235.39 L398.75,235.40 L398.96,235.41 L399.17,235.41 L399.39,235.42 L399.60,235.42 L399.82,235.43 L400.03,235.43 L400.24,235.44 L400.46,235.44 L400.67,235.45 L400.89,235.46 L401.10,235.46" stroke="#6e6e6e"/>
<path d="M251.53,181.99 L251.75,181.99 L251.96,181.98 L252.17,181.98 L252.39,181.97 L252.60,181.97 L252.82,181.96 L253.03,181.96 L253.24,181.95 L253.46,181.95 L253.67,181.94 L253.89,181.94 L254.10,181.93 L254.31,181.93 L254.53,181.92 L254.74,181.92 L254.96,181.91 L255.17,181.90 L255.38,181.90 L255.60,181.89 L255.81,181.89 L256.03,181.88 L256.24,181.88 L256.45,181.87 L256.67,181.87 L256.88,181.86 L257.10,181.86 L257.31,181.85 L257.52,181.85 L257.74,181.84 L257.95,181.84 L258.17,181.83 L258.38,181.83 L258.59,181.82 L258.81,181.81 L259.02,181.81 L259.24,181.80 L259.45,181.80 L259.66,181.79 L259.88,181.79 L260.09,181.78 L260.30,181.78 L260.52,181.77 L260.73,181.77 L260.95,181.76 L261.16,181.75 L261.37,181.75 L261.59,181.74 L261.80,181.74 L262.02,181.73 L262.23,181.73 L262.44,181.72 L262.66,181.72 L262.87,181.71 L263.09,181.70 L263.30,181.70 L263.51,181.69 L263.73,181.69 L263.94,181.68 L264.16,181.68 L264.37,181.67 L264.58,181.66 L264.80,181.66 L265.01,181.65 L265.23,181.65 L265.44,181.64 L265.65,181.63 L265.87,181.63 L266.08,181.62 L266.30,181.62 L266.51,181.61 L266.72,181.60 L266.94,181.60 L267.15,181.59 L267.37,181.58 L267.58,181.58 L267.79,181.57 L268.01,181.57 L268.22,181.56 L268.44,181.55 L268.65,181.55 L268.86,181.54 L269.08,181.53 L269.29,181.53 L269.51,181.52 L269.72,181.51 L269.93,181.50 L270.15,181.50 L270.36,181.49 L270.58,181.48 L270.79,181.47 L271.00,181.47 L271.22,181.46 L271.43,181.45 L271.65,181.44 L271.86,181.43 L272.07,181.43 L272.29,181.42 L272.50,181.41 L272.72,181.40 L272.93,181.39 L273.14,181.38 L273.36,181.37 L273.57,181.36 L273.79,181.35 L274.00,181.33 L274.21,181.32 L274.43,181.30 L274.64,181.29 L274.86,181.27 L275.07,181.24 L275.28,181.22 L275.50,181.19 L275.71,181.16 L275.93,181.12 L276.14,181.07 L276.35,181.02 L276.57,180.96 L276.78,180.89 L276.99,180.81 L277.21,180.72 L277.42,180.63 L277.64,180.52 L277.85,180.40 L278.06,180.27 L278.28,180.14 L278.49,179.99 L278.71,179.85 L278.92,179.70 L279.13,179.55 L279.35,179.41 L279.56,179.27 L279.78,179.16 L279.99,179.05 L280.20,178.97 L280.42,178.92 L280.63,178.90 L280.85,178.90 L281.06,178.93 L281.27,178.99 L281.49,179.07 L281.70,179.16 L281.92,179.27 L282.13,179.38 L282.34,179.50 L282.56,179.62 L282.77,179.74 L282.99,179.86 L283.20,179.97 L283.41,180.06 L283.63,180.15 L283.84,180.23 L284.06,180.29 L284.27,180.34 L284.48,180.38 L284.70,180.41 L284.91,180.43 L285.13,180.43 L285.34,180.42 L285.55,180.40 L285.77,180.37 L285.98,180.32 L286.20,180.24 L286.41,180.15 L286.62,180.02 L286.84,179.85 L287.05,179.63 L287.27,179.35 L287.48,178.98 L287.69,178.52 L287.91,177.94 L288.12,177.22 L288.34,176.34 L288.55,175.29 L288.76,174.06 L288.98,172.65 L289.19,171.06 L289.41,169.32 L289.62,167.46 L289.83,165.52 L290.05,163.58 L290.26,161.71 L290.48,160.00 L290.69,158.56 L290.90,157.49 L291.12,156.88 L291.33,156.79 L291.55,157.23 L291.76,158.15 L291.97,159.47 L292.19,161.10 L292.40,162.93 L292.62,164.87 L292.83,166.81 L293.04,168.71 L293.26,170.50 L293.47,172.15 L293.68,173.62 L293.90,174.92 L294.11,176.03 L294.33,176.97 L294.54,177.75 L294.75,178.38 L294.97,178.89 L295.18,179.29 L295.40,179.61 L295.61,179.85 L295.82,180.05 L296.04,180.20 L296.25,180.32 L296.47,180.41 L296.68,180.49 L296.89,180.56 L297.11,180.61 L297.32,180.66 L297.54,180.70 L297.75,180.73 L297.96,180.77 L298.18,180.80 L298.39,180.82 L298.61,180.85 L298.82,180.87 L299.03,180.89 L299.25,180.91 L299.46,180.93 L299.68,180.95 L299.89,180.96 L300.10,180.97 L300.32,180.99 L300.53,181.00 L300.75,181.01 L300.96,181.02 L301.17,181.03 L301.39,181.04 L301.60,181.05 L301.82,181.06 L302.03,181.07 L302.24,181.08 L302.46,181.08 L302.67,181.09 L302.89,181.10 L303.10,181.10 L303.31,181.11 L303.53,181.11 L303.74,181.12 L303.96,181.12 L304.17,181.13 L304.38,181.13 L304.60,181.14 L304.81,181.14 L305.03,181.14 L305.24,181.15 L305.45,181.15 L305.67,181.16 L305.88,181.16 L306.10,181.16 L306.31,181.16 L306.52,181.17 L306.74,181.17 L306.95,181.17 L307.17,181.17 L307.38,181.18 L307.59,181.18 L307.81,181.18 L308.02,181.18 L308.24,181.18 L308.45,181.19 L308.66,181.19 L308.88,181.19 L309.09,181.19 L309.31,181.19 L309.52,181.19 L309.73,181.19 L309.95,181.20 L310.16,181.20 L310.37,181.20 L310.59,181.20 L310.80,181.20 L311.02,181.20 L311.23,181.20 L311.44,181.20 L311.66,181.20 L311.87,181.20 L312.09,181.21 L312.30,181.21 L312.51,181.21 L312.73,181.21 L312.94,181.21 L313.16,181.21 L313.37,181.21 L313.58,181.21 L313.80,181.21 L314.01,181.21 L314.23,181.21 L314.44,181.21 L314.65,181.21 L314.87,181.21 L315.08,181.21 L315.30,181.21 L315.51,181.21 L315.72,181.21 L315.94,181.21 L316.15,181.21 L316.37,181.21 L316.58,181.21 L316.79,181.21 L317.01,181.21 L317.22,181.21 L317.44,181.21 L317.65,181.21 L317.86,181.21 L318.08,181.21 L318.29,181.21 L318.51,181.21 L318.72,181.21 L318.93,181.21 L319.15,181.21 L319.36,181.21 L319.58,181.21 L319.79,181.20 L320.00,181.20 L320.22,181.20 L320.43,181.20 L320.65,181.20 L320.86,181.20 L321.07,181.20 L321.29,181.20 L321.50,181.20 L321.72,181.20 L321.93,181.20 L322.14,181.19 L322.36,181.19 L322.57,181.19 L322.79,181.19 L323.00,181.19 L323.21,181.19 L323.43,181.19 L323.64,181.18 L323.86,181.18 L324.07,181.18 L324.28,181.18 L324.50,181.18 L324.71,181.17 L324.93,181.17 L325.14,181.17 L325.35,181.17 L325.57,181.16 L325.78,181.16 L326.00,181.16 L326.21,181.16 L326.42,181.15 L326.64,181.15 L326.85,181.15 L327.06,181.14 L327.28,181.14 L327.49,181.13 L327.71,181.13 L327.92,181.13 L328.13,181.12 L328.35,181.12 L328.56,181.11 L328.78,181.10 L328.99,181.10 L329.20,181.09 L329.42,181.08 L329.63,181.07 L329.85,181.06 L330.06,181.04 L330.27,181.02 L330.49,181.00 L330.70,180.97 L330.92,180.93 L331.13,180.89 L331.34,180.83 L331.56,180.77 L331.77,180.70 L331.99,180.61 L332.20,180.53 L332.41,180.44 L332.63,180.34 L332.84,180.26 L333.06,180.18 L333.27,180.12 L333.48,180.09 L333.70,180.08 L333.91,180.09 L334.13,180.12 L334.34,180.18 L334.55,180.24 L334.77,180.30 L334.98,180.37 L335.20,180.43 L335.41,180.48 L335.62,180.53 L335.84,180.56 L336.05,180.58 L336.27,180.59 L336.48,180.60 L336.69,180.59 L336.91,180.57 L337.12,180.55 L337.34,180.52 L337.55,180.49 L337.76,180.44 L337.98,180.39 L338.19,180.34 L338.41,180.27 L338.62,180.19 L338.83,180.09 L339.05,179.98 L339.26,179.84 L339.48,179.66 L339.69,179.43 L339.90,179.14 L340.12,178.76 L340.33,178.29 L340.55,177.68 L340.76,176.91 L340.97,175.96 L341.19,174.79 L341.40,173.38 L341.62,171.71 L341.83,169.77 L342.04,167.57 L342.26,165.11 L342.47,162.45 L342.69,159.64 L342.90,156.76 L343.11,153.91 L343.33,151.23 L343.54,148.85 L343.75,146.94 L343.97,145.65 L344.18,145.08 L344.40,145.28 L344.61,146.25 L344.82,147.89 L345.04,150.06 L345.25,152.62 L345.47,155.40 L345.68,158.28 L345.89,161.13 L346.11,163.87 L346.32,166.43 L346.54,168.75 L346.75,170.82 L346.96,172.61 L347.18,174.14 L347.39,175.42 L347.61,176.47 L347.82,177.31 L348.03,177.99 L348.25,178.52 L348.46,178.94 L348.68,179.26 L348.89,179.51 L349.10,179.71 L349.32,179.86 L349.53,179.98 L349.75,180.08 L349.96,180.15 L350.17,180.21 L350.39,180.26 L350.60,180.30 L350.82,180.32 L351.03,180.33 L351.24,180.33 L351.46,180.32 L351.67,180.29 L351.89,180.25 L352.10,180.19 L352.31,180.11 L352.53,180.02 L352.74,179.91 L352.96,179.78 L353.17,179.64 L353.38,179.49 L353.60,179.33 L353.81,179.16 L354.03,178.99 L354.24,178.82 L354.45,178.67 L354.67,178.54 L354.88,178.43 L355.10,178.36 L355.31,178.33 L355.52,178.35 L355.74,178.40 L355.95,178.50 L356.17,178.63 L356.38,178.79 L356.59,178.97 L356.81,179.16 L357.02,179.35 L357.24,179.54 L357.45,179.73 L357.66,179.91 L357.88,180.07 L358.09,180.23 L358.31,180.36 L358.52,180.48 L358.73,180.59 L358.95,180.68 L359.16,180.76 L359.38,180.82 L359.59,180.87 L359.80,180.92 L360.02,180.96 L360.23,180.99 L360.44,181.01 L360.66,181.03 L360.87,181.05 L361.09,181.07 L361.30,181.08 L361.51,181.09 L361.73,181.10 L361.94,181.11 L362.16,181.11 L362.37,181.12 L362.58,181.13 L362.80,181.13 L363.01,181.14 L363.23,181.14 L363.44,181.15 L363.65,181.15 L363.87,181.16 L364.08,181.16 L364.30,181.17 L364.51,181.17 L364.72,181.17 L364.94,181.18 L365.15,181.18 L365.37,181.18 L365.58,181.19 L365.79,181.19 L366.01,181.19 L366.22,181.19 L366.44,181.20 L366.65,181.20 L366.86,181.20 L367.08,181.20 L367.29,181.21 L367.51,181.21 L367.72,181.21 L367.93,181.21 L368.15,181.21 L368.36,181.22 L368.58,181.22 L368.79,181.22 L369.00,181.22 L369.22,181.22 L369.43,181.22 L369.65,181.23 L369.86,181.23 L370.07,181.23 L370.29,181.23 L370.50,181.23 L370.72,181.23 L370.93,181.23 L371.14,181.23 L371.36,181.24 L371.57,181.24 L371.79,181.24 L372.00,181.24 L372.21,181.24 L372.43,181.24 L372.64,181.24 L372.86,181.24 L373.07,181.24 L373.28,181.24 L373.50,181.25 L373.71,181.25 L373.93,181.25 L374.14,181.25 L374.35,181.25 L374.57,181.25 L374.78,181.25 L375.00,181.25 L375.21,181.25 L375.42,181.25 L375.64,181.25 L375.85,181.25 L376.07,181.25 L376.28,181.26 L376.49,181.26 L376.71,181.26 L376.92,181.26 L377.13,181.26 L377.35,181.26 L377.56,181.26 L377.78,181.26 L377.99,181.26 L378.20,181.26 L378.42,181.26 L378.63,181.26 L378.85,181.26 L379.06,181.26 L379.27,181.26 L379.49,181.26 L379.70,181.26 L379.92,181.26 L380.13,181.27 L380.34,181.27 L380.56,181.27 L380.77,181.27 L380.99,181.27 L381.20,181.27 L381.41,181.27 L381.63,181.27 L381.84,181.27 L382.06,181.27 L382.27,181.27 L382.48,181.27 L382.70,181.27 L382.91,181.27 L383.13,181.27 L383.34,181.27 L383.55,181.27 L383.77,181.27 L383.98,181.27 L384.20,181.27 L384.41,181.27 L384.62,181.27 L384.84,181.27 L385.05,181.27 L385.27,181.27 L385.48,181.27 L385.69,181.27 L385.91,181.27 L386.12,181.28 L386.34,181.28 L386.55,181.28 L386.76,181.28 L386.98,181.28 L387.19,181.28 L387.41,181.28 L387.62,181.28 L387.83,181.28 L388.05,181.28 L388.26,181.28 L388.48,181.28 L388.69,181.28 L388.90,181.28 L389.12,181.28 L389.33,181.28 L389.55,181.28 L389.76,181.28 L389.97,181.28 L390.19,181.28 L390.40,181.28 L390.62,181.28 L390.83,181.28 L391.04,181.28 L391.26,181.28 L391.47,181.28 L391.69,181.28 L391.90,181.28 L392.11,181.28 L392.33,181.28 L392.54,181.28 L392.76,181.28 L392.97,181.28 L393.18,181.28 L393.40,181.28 L393.61,181.28 L393.82,181.28 L394.04,181.28 L394.25,181.28 L394.47,181.28 L394.68,181.28 L394.89,181.28 L395.11,181.28 L395.32,181.28 L395.54,181.28 L395.75,181.28 L395.96,181.28 L396.18,181.28 L396.39,181.28 L396.61,181.28 L396.82,181.28 L397.03,181.28 L397.25,181.29 L397.46,181.29 L397.68,181.29 L397.89,181.29 L398.10,181.29 L398.32,181.29 L398.53,181.29 L398.75,181.29 L398.96,181.29 L399.17,181.29 L399.39,181.29 L399.60,181.29 L399.82,181.29 L400.03,181.29 L400.24,181.29 L400.46,181.29 L400.67,181.29 L400.89,181.29 L401.10,181.29" stroke="#ff2a2a"/>
<path d="M251.53,128.25 L251.75,128.24 L251.96,128.23 L252.17,128.22 L252.39,128.21 L252.60,128.21 L252.82,128.20 L253.03,128.19 L253.24,128.18 L253.46,128.17 L253.67,128.16 L253.89,128.15 L254.10,128.14 L254.31,128.13 L254.53,128.12 L254.74,128.11 L254.96,128.10 L255.17,128.09 L255.38,128.08 L255.60,128.07 L255.81,128.06 L256.03,128.05 L256.24,128.04 L256.45,128.03 L256.67,128.02 L256.88,128.01 L257.10,128.00 L257.31,127.99 L257.52,127.98 L257.74,127.97 L257.95,127.96 L258.17,127.95 L258.38,127.94 L258.59,127.93 L258.81,127.92 L259.02,127.91 L259.24,127.90 L259.45,127.89 L259.66,127.88 L259.88,127.87 L260.09,127.86 L260.30,127.85 L260.52,127.84 L260.73,127.83 L260.95,127.82 L261.16,127.81 L261.37,127.80 L261.59,127.79 L261.80,127.78 L262.02,127.77 L262.23,127.76 L262.44,127.75 L262.66,127.74 L262.87,127.73 L263.09,127.72 L263.30,127.71 L263.51,127.70 L263.73,127.69 L263.94,127.68 L264.16,127.67 L264.37,127.66 L264.58,127.65 L264.80,127.64 L265.01,127.63 L265.23,127.62 L265.44,127.60 L265.65,127.59 L265.87,127.58 L266.08,127.57 L266.30,127.56 L266.51,127.55 L266.72,127.54 L266.94,127.53 L267.15,127.52 L267.37,127.51 L267.58,127.49 L267.79,127.48 L268.01,127.47 L268.22,127.46 L268.44,127.45 L268.65,127.44 L268.86,127.42 L269.08,127.41 L269.29,127.40 L269.51,127.39 L269.72,127.38 L269.93,127.36 L270.15,127.35 L270.36,127.34 L270.58,127.32 L270.79,127.31 L271.00,127.30 L271.22,127.28 L271.43,127.27 L271.65,127.26 L271.86,127.24 L272.07,127.23 L272.29,127.21 L272.50,127.20 L272.72,127.18 L272.93,127.16 L273.14,127.15 L273.36,127.13 L273.57,127.11 L273.79,127.09 L274.00,127.07 L274.21,127.04 L274.43,127.02 L274.64,126.99 L274.86,126.96 L275.07,126.92 L275.28,126.88 L275.50,126.83 L275.71,126.78 L275.93,126.72 L276.14,126.64 L276.35,126.56 L276.57,126.46 L276.78,126.35 L276.99,126.23 L277.21,126.08 L277.42,125.93 L277.64,125.75 L277.85,125.56 L278.06,125.35 L278.28,125.14 L278.49,124.91 L278.71,124.67 L278.92,124.43 L279.13,124.20 L279.35,123.97 L279.56,123.76 L279.78,123.57 L279.99,123.40 L280.20,123.28 L280.42,123.19 L280.63,123.15 L280.85,123.16 L281.06,123.21 L281.27,123.30 L281.49,123.43 L281.70,123.58 L281.92,123.75 L282.13,123.94 L282.34,124.13 L282.56,124.32 L282.77,124.51 L282.99,124.70 L283.20,124.88 L283.41,125.04 L283.63,125.18 L283.84,125.31 L284.06,125.42 L284.27,125.51 L284.48,125.58 L284.70,125.63 L284.91,125.66 L285.13,125.67 L285.34,125.67 L285.55,125.64 L285.77,125.60 L285.98,125.53 L286.20,125.43 L286.41,125.30 L286.62,125.12 L286.84,124.89 L287.05,124.58 L287.27,124.19 L287.48,123.67 L287.69,123.02 L287.91,122.21 L288.12,121.19 L288.34,119.96 L288.55,118.49 L288.76,116.76 L288.98,114.78 L289.19,112.55 L289.41,110.10 L289.62,107.49 L289.83,104.77 L290.05,102.04 L290.26,99.40 L290.48,97.00 L290.69,94.98 L290.90,93.48 L291.12,92.63 L291.33,92.50 L291.55,93.11 L291.76,94.41 L291.97,96.27 L292.19,98.56 L292.40,101.13 L292.62,103.85 L292.83,106.58 L293.04,109.25 L293.26,111.76 L293.47,114.08 L293.68,116.15 L293.90,117.97 L294.11,119.54 L294.33,120.86 L294.54,121.95 L294.75,122.84 L294.97,123.55 L295.18,124.12 L295.40,124.56 L295.61,124.91 L295.82,125.18 L296.04,125.39 L296.25,125.56 L296.47,125.70 L296.68,125.81 L296.89,125.90 L297.11,125.97 L297.32,126.04 L297.54,126.10 L297.75,126.15 L297.96,126.19 L298.18,126.23 L298.39,126.27 L298.61,126.31 L298.82,126.34 L299.03,126.37 L299.25,126.40 L299.46,126.42 L299.68,126.44 L299.89,126.47 L300.10,126.49 L300.32,126.50 L300.53,126.52 L300.75,126.54 L300.96,126.55 L301.17,126.57 L301.39,126.58 L301.60,126.59 L301.82,126.61 L302.03,126.62 L302.24,126.63 L302.46,126.64 L302.67,126.65 L302.89,126.66 L303.10,126.67 L303.31,126.67 L303.53,126.68 L303.74,126.69 L303.96,126.70 L304.17,126.70 L304.38,126.71 L304.60,126.71 L304.81,126.72 L305.03,126.72 L305.24,126.73 L305.45,126.73 L305.67,126.74 L305.88,126.74 L306.10,126.75 L306.31,126.75 L306.52,126.76 L306.74,126.76 L306.95,126.76 L307.17,126.77 L307.38,126.77 L307.59,126.77 L307.81,126.78 L308.02,126.78 L308.24,126.78 L308.45,126.78 L308.66,126.79 L308.88,126.79 L309.09,126.79 L309.31,126.79 L309.52,126.79 L309.73,126.80 L309.95,126.80 L310.16,126.80 L310.37,126.80 L310.59,126.80 L310.80,126.80 L311.02,126.80 L311.23,126.81 L311.44,126.81 L311.66,126.81 L311.87,126.81 L312.09,126.81 L312.30,126.81 L312.51,126.81 L312.73,126.81 L312.94,126.81 L313.16,126.81 L313.37,126.82 L313.58,126.82 L313.80,126.82 L314.01,126.82 L314.23,126.82 L314.44,126.82 L314.65,126.82 L314.87,126.82 L315.08,126.82 L315.30,126.82 L315.51,126.82 L315.72,126.82 L315.94,126.82 L316.15,126.82 L316.37,126.82 L316.58,126.82 L316.79,126.82 L317.01,126.82 L317.22,126.82 L317.44,126.82 L317.65,126.82 L317.86,126.82 L318.08,126.82 L318.29,126.82 L318.51,126.82 L318.72,126.81 L318.93,126.81 L319.15,126.81 L319.36,126.81 L319.58,126.81 L319.79,126.81 L320.00,126.81 L320.22,126.81 L320.43,126.81 L320.65,126.81 L320.86,126.80 L321.07,126.80 L321.29,126.80 L321.50,126.80 L321.72,126.80 L321.93,126.80 L322.14,126.80 L322.36,126.79 L322.57,126.79 L322.79,126.79 L323.00,126.79 L323.21,126.79 L323.43,126.78 L323.64,126.78 L323.86,126.78 L324.07,126.78 L324.28,126.77 L324.50,126.77 L324.71,126.77 L324.93,126.77 L325.14,126.76 L325.35,126.76 L325.57,126.76 L325.78,126.75 L326.00,126.75 L326.21,126.75 L326.42,126.74 L326.64,126.74 L326.85,126.73 L327.06,126.73 L327.28,126.72 L327.49,126.72 L327.71,126.71 L327.92,126.71 L328.13,126.70 L328.35,126.69 L328.56,126.69 L328.78,126.68 L328.99,126.67 L329.20,126.66 L329.42,126.65 L329.63,126.64 L329.85,126.62 L330.06,126.61 L330.27,126.58 L330.49,126.56 L330.70,126.53 L330.92,126.49 L331.13,126.44 L331.34,126.38 L331.56,126.32 L331.77,126.24 L331.99,126.16 L332.20,126.06 L332.41,125.97 L332.63,125.88 L332.84,125.79 L333.06,125.71 L333.27,125.64 L333.48,125.60 L333.70,125.59 L333.91,125.59 L334.13,125.62 L334.34,125.67 L334.55,125.72 L334.77,125.78 L334.98,125.84 L335.20,125.90 L335.41,125.94 L335.62,125.98 L335.84,126.00 L336.05,126.01 L336.27,126.01 L336.48,126.01 L336.69,125.99 L336.91,125.96 L337.12,125.92 L337.34,125.88 L337.55,125.82 L337.76,125.76 L337.98,125.69 L338.19,125.61 L338.41,125.51 L338.62,125.40 L338.83,125.27 L339.05,125.11 L339.26,124.91 L339.48,124.65 L339.69,124.34 L339.90,123.93 L340.12,123.41 L340.33,122.74 L340.55,121.89 L340.76,120.82 L340.97,119.49 L341.19,117.86 L341.40,115.90 L341.62,113.57 L341.83,110.86 L342.04,107.78 L342.26,104.36 L342.47,100.64 L342.69,96.72 L342.90,92.70 L343.11,88.73 L343.33,84.99 L343.54,81.67 L343.75,79.01 L343.97,77.20 L344.18,76.40 L344.40,76.69 L344.61,78.04 L344.82,80.32 L345.04,83.36 L345.25,86.92 L345.47,90.81 L345.68,94.82 L345.89,98.80 L346.11,102.63 L346.32,106.19 L346.54,109.43 L346.75,112.31 L346.96,114.81 L347.18,116.94 L347.39,118.72 L347.61,120.19 L347.82,121.37 L348.03,122.31 L348.25,123.05 L348.46,123.63 L348.68,124.08 L348.89,124.43 L349.10,124.70 L349.32,124.91 L349.53,125.08 L349.75,125.21 L349.96,125.31 L350.17,125.39 L350.39,125.45 L350.60,125.50 L350.82,125.52 L351.03,125.53 L351.24,125.52 L351.46,125.48 L351.67,125.43 L351.89,125.35 L352.10,125.24 L352.31,125.11 L352.53,124.95 L352.74,124.76 L352.96,124.54 L353.17,124.30 L353.38,124.04 L353.60,123.76 L353.81,123.47 L354.03,123.19 L354.24,122.91 L354.45,122.65 L354.67,122.43 L354.88,122.25 L355.10,122.13 L355.31,122.08 L355.52,122.10 L355.74,122.19 L355.95,122.35 L356.17,122.57 L356.38,122.83 L356.59,123.12 L356.81,123.43 L357.02,123.75 L357.24,124.07 L357.45,124.38 L357.66,124.68 L357.88,124.95 L358.09,125.20 L358.31,125.43 L358.52,125.63 L358.73,125.80 L358.95,125.95 L359.16,126.08 L359.38,126.19 L359.59,126.28 L359.80,126.35 L360.02,126.41 L360.23,126.46 L360.44,126.50 L360.66,126.54 L360.87,126.57 L361.09,126.59 L361.30,126.61 L361.51,126.63 L361.73,126.64 L361.94,126.65 L362.16,126.67 L362.37,126.68 L362.58,126.69 L362.80,126.70 L363.01,126.71 L363.23,126.71 L363.44,126.72 L363.65,126.73 L363.87,126.73 L364.08,126.74 L364.30,126.75 L364.51,126.75 L364.72,126.76 L364.94,126.76 L365.15,126.77 L365.37,126.77 L365.58,126.78 L365.79,126.78 L366.01,126.79 L366.22,126.79 L366.44,126.79 L366.65,126.80 L366.86,126.80 L367.08,126.80 L367.29,126.81 L367.51,126.81 L367.72,126.81 L367.93,126.82 L368.15,126.82 L368.36,126.82 L368.58,126.82 L368.79,126.83 L369.00,126.83 L369.22,126.83 L369.43,126.83 L369.65,126.84 L369.86,126.84 L370.07,126.84 L370.29,126.84 L370.50,126.84 L370.72,126.85 L370.93,126.85 L371.14,126.85 L371.36,126.85 L371.57,126.85 L371.79,126.85 L372.00,126.86 L372.21,126.86 L372.43,126.86 L372.64,126.86 L372.86,126.86 L373.07,126.86 L373.28,126.86 L373.50,126.87 L373.71,126.87 L373.93,126.87 L374.14,126.87 L374.35,126.87 L374.57,126.87 L374.78,126.87 L375.00,126.87 L375.21,126.87 L375.42,126.88 L375.64,126.88 L375.85,126.88 L376.07,126.88 L376.28,126.88 L376.49,126.88 L376.71,126.88 L376.92,126.88 L377.13,126.88 L377.35,126.88 L377.56,126.89 L377.78,126.89 L377.99,126.89 L378.20,126.89 L378.42,126.89 L378.63,126.89 L378.85,126.89 L379.06,126.89 L379.27,126.89 L379.49,126.89 L379.70,126.89 L379.92,126.89 L380.13,126.89 L380.34,126.89 L380.56,126.90 L380.77,126.90 L380.99,126.90 L381.20,126.90 L381.41,126.90 L381.63,126.90 L381.84,126.90 L382.06,126.90 L382.27,126.90 L382.48,126.90 L382.70,126.90 L382.91,126.90 L383.13,126.90 L383.34,126.90 L383.55,126.90 L383.77,126.90 L383.98,126.90 L384.20,126.90 L384.41,126.90 L384.62,126.91 L384.84,126.91 L385.05,126.91 L385.27,126.91 L385.48,126.91 L385.69,126.91 L385.91,126.91 L386.12,126.91 L386.34,126.91 L386.55,126.91 L386.76,126.91 L386.98,126.91 L387.19,126.91 L387.41,126.91 L387.62,126.91 L387.83,126.91 L388.05,126.91 L388.26,126.91 L388.48,126.91 L388.69,126.91 L388.90,126.91 L389.12,126.91 L389.33,126.91 L389.55,126.91 L389.76,126.91 L389.97,126.91 L390.19,126.91 L390.40,126.91 L390.62,126.92 L390.83,126.92 L391.04,126.92 L391.26,126.92 L391.47,126.92 L391.69,126.92 L391.90,126.92 L392.11,126.92 L392.33,126.92 L392.54,126.92 L392.76,126.92 L392.97,126.92 L393.18,126.92 L393.40,126.92 L393.61,126.92 L393.82,126.92 L394.04,126.92 L394.25,126.92 L394.47,126.92 L394.68,126.92 L394.89,126.92 L395.11,126.92 L395.32,126.92 L395.54,126.92 L395.75,126.92 L395.96,126.92 L396.18,126.92 L396.39,126.92 L396.61,126.92 L396.82,126.92 L397.03,126.92 L397.25,126.92 L397.46,126.92 L397.68,126.92 L397.89,126.92 L398.10,126.92 L398.32,126.92 L398.53,126.92 L398.75,126.92 L398.96,126.92 L399.17,126.92 L399.39,126.92 L399.60,126.92 L399.82,126.92 L400.03,126.92 L400.24,126.92 L400.46,126.93 L400.67,126.93 L400.89,126.93 L401.10,126.93" stroke="#0f66e0"/>
<path d="M251.53,73.99 L251.75,73.98 L251.96,73.97 L252.17,73.97 L252.39,73.96 L252.60,73.95 L252.82,73.94 L253.03,73.94 L253.24,73.93 L253.46,73.92 L253.67,73.91 L253.89,73.91 L254.10,73.90 L254.31,73.89 L254.53,73.88 L254.74,73.87 L254.96,73.87 L255.17,73.86 L255.38,73.85 L255.60,73.84 L255.81,73.83 L256.03,73.83 L256.24,73.82 L256.45,73.81 L256.67,73.80 L256.88,73.80 L257.10,73.79 L257.31,73.78 L257.52,73.77 L257.74,73.76 L257.95,73.76 L258.17,73.75 L258.38,73.74 L258.59,73.73 L258.81,73.72 L259.02,73.72 L259.24,73.71 L259.45,73.70 L259.66,73.69 L259.88,73.68 L260.09,73.68 L260.30,73.67 L260.52,73.66 L260.73,73.65 L260.95,73.64 L261.16,73.63 L261.37,73.63 L261.59,73.62 L261.80,73.61 L262.02,73.60 L262.23,73.59 L262.44,73.59 L262.66,73.58 L262.87,73.57 L263.09,73.56 L263.30,73.55 L263.51,73.54 L263.73,73.53 L263.94,73.53 L264.16,73.52 L264.37,73.51 L264.58,73.50 L264.80,73.49 L265.01,73.48 L265.23,73.47 L265.44,73.47 L265.65,73.46 L265.87,73.45 L266.08,73.44 L266.30,73.43 L266.51,73.42 L266.72,73.41 L266.94,73.40 L267.15,73.39 L267.37,73.38 L267.58,73.37 L267.79,73.36 L268.01,73.35 L268.22,73.35 L268.44,73.34 L268.65,73.33 L268.86,73.32 L269.08,73.31 L269.29,73.30 L269.51,73.29 L269.72,73.27 L269.93,73.26 L270.15,73.25 L270.36,73.24 L270.58,73.23 L270.79,73.22 L271.00,73.21 L271.22,73.20 L271.43,73.19 L271.65,73.17 L271.86,73.16 L272.07,73.15 L272.29,73.14 L272.50,73.12 L272.72,73.11 L272.93,73.09 L273.14,73.08 L273.36,73.06 L273.57,73.05 L273.79,73.03 L274.00,73.01 L274.21,72.99 L274.43,72.96 L274.64,72.94 L274.86,72.91 L275.07,72.87 L275.28,72.84 L275.50,72.79 L275.71,72.74 L275.93,72.68 L276.14,72.61 L276.35,72.52 L276.57,72.43 L276.78,72.32 L276.99,72.20 L277.21,72.06 L277.42,71.90 L277.64,71.73 L277.85,71.54 L278.06,71.34 L278.28,71.12 L278.49,70.90 L278.71,70.66 L278.92,70.43 L279.13,70.20 L279.35,69.97 L279.56,69.76 L279.78,69.57 L279.99,69.41 L280.20,69.29 L280.42,69.21 L280.63,69.17 L280.85,69.18 L281.06,69.23 L281.27,69.33 L281.49,69.46 L281.70,69.61 L281.92,69.79 L282.13,69.98 L282.34,70.17 L282.56,70.37 L282.77,70.57 L282.99,70.76 L283.20,70.93 L283.41,71.10 L283.63,71.25 L283.84,71.38 L284.06,71.49 L284.27,71.58 L284.48,71.65 L284.70,71.71 L284.91,71.74 L285.13,71.76 L285.34,71.77 L285.55,71.75 L285.77,71.71 L285.98,71.66 L286.20,71.57 L286.41,71.46 L286.62,71.30 L286.84,71.09 L287.05,70.82 L287.27,70.46 L287.48,70.00 L287.69,69.42 L287.91,68.69 L288.12,67.78 L288.34,66.68 L288.55,65.36 L288.76,63.81 L288.98,62.04 L289.19,60.04 L289.41,57.85 L289.62,55.50 L289.83,53.07 L290.05,50.62 L290.26,48.26 L290.48,46.11 L290.69,44.30 L290.90,42.95 L291.12,42.19 L291.33,42.08 L291.55,42.63 L291.76,43.79 L291.97,45.46 L292.19,47.51 L292.40,49.81 L292.62,52.25 L292.83,54.70 L293.04,57.09 L293.26,59.34 L293.47,61.41 L293.68,63.27 L293.90,64.90 L294.11,66.31 L294.33,67.49 L294.54,68.47 L294.75,69.26 L294.97,69.90 L295.18,70.41 L295.40,70.81 L295.61,71.12 L295.82,71.36 L296.04,71.55 L296.25,71.71 L296.47,71.83 L296.68,71.92 L296.89,72.01 L297.11,72.07 L297.32,72.13 L297.54,72.19 L297.75,72.23 L297.96,72.27 L298.18,72.31 L298.39,72.34 L298.61,72.37 L298.82,72.40 L299.03,72.43 L299.25,72.45 L299.46,72.48 L299.68,72.50 L299.89,72.52 L300.10,72.53 L300.32,72.55 L300.53,72.57 L300.75,72.58 L300.96,72.60 L301.17,72.61 L301.39,72.62 L301.60,72.63 L301.82,72.64 L302.03,72.65 L302.24,72.66 L302.46,72.67 L302.67,72.68 L302.89,72.69 L303.10,72.70 L303.31,72.70 L303.53,72.71 L303.74,72.72 L303.96,72.72 L304.17,72.73 L304.38,72.73 L304.60,72.74 L304.81,72.74 L305.03,72.75 L305.24,72.75 L305.45,72.76 L305.67,72.76 L305.88,72.77 L306.10,72.77 L306.31,72.77 L306.52,72.78 L306.74,72.78 L306.95,72.78 L307.17,72.79 L307.38,72.79 L307.59,72.79 L307.81,72.79 L308.02,72.80 L308.24,72.80 L308.45,72.80 L308.66,72.80 L308.88,72.81 L309.09,72.81 L309.31,72.81 L309.52,72.81 L309.73,72.81 L309.95,72.81 L310.16,72.82 L310.37,72.82 L310.59,72.82 L310.80,72.82 L311.02,72.82 L311.23,72.82 L311.44,72.82 L311.66,72.82 L311.87,72.83 L312.09,72.83 L312.30,72.83 L312.51,72.83 L312.73,72.83 L312.94,72.83 L313.16,72.83 L313.37,72.83 L313.58,72.83 L313.80,72.83 L314.01,72.83 L314.23,72.83 L314.44,72.83 L314.65,72.83 L314.87,72.83 L315.08,72.83 L315.30,72.83 L315.51,72.83 L315.72,72.83 L315.94,72.83 L316.15,72.83 L316.37,72.83 L316.58,72.83 L316.79,72.83 L317.01,72.83 L317.22,72.83 L317.44,72.83 L317.65,72.83 L317.86,72.83 L318.08,72.83 L318.29,72.83 L318.51,72.83 L318.72,72.83 L318.93,72.83 L319.15,72.83 L319.36,72.83 L319.58,72.83 L319.79,72.83 L320.00,72.83 L320.22,72.82 L320.43,72.82 L320.65,72.82 L320.86,72.82 L321.07,72.82 L321.29,72.82 L321.50,72.82 L321.72,72.82 L321.93,72.81 L322.14,72.81 L322.36,72.81 L322.57,72.81 L322.79,72.81 L323.00,72.81 L323.21,72.80 L323.43,72.80 L323.64,72.80 L323.86,72.80 L324.07,72.80 L324.28,72.79 L324.50,72.79 L324.71,72.79 L324.93,72.79 L325.14,72.78 L325.35,72.78 L325.57,72.78 L325.78,72.77 L326.00,72.77 L326.21,72.77 L326.42,72.76 L326.64,72.76 L326.85,72.76 L327.06,72.75 L327.28,72.75 L327.49,72.74 L327.71,72.74 L327.92,72.73 L328.13,72.73 L328.35,72.72 L328.56,72.71 L328.78,72.71 L328.99,72.70 L329.20,72.69 L329.42,72.68 L329.63,72.67 L329.85,72.65 L330.06,72.64 L330.27,72.62 L330.49,72.59 L330.70,72.56 L330.92,72.52 L331.13,72.47 L331.34,72.42 L331.56,72.35 L331.77,72.28 L331.99,72.19 L332.20,72.11 L332.41,72.01 L332.63,71.92 L332.84,71.83 L333.06,71.75 L333.27,71.69 L333.48,71.65 L333.70,71.64 L333.91,71.65 L334.13,71.68 L334.34,71.73 L334.55,71.78 L334.77,71.85 L334.98,71.91 L335.20,71.96 L335.41,72.01 L335.62,72.05 L335.84,72.08 L336.05,72.09 L336.27,72.10 L336.48,72.09 L336.69,72.08 L336.91,72.06 L337.12,72.02 L337.34,71.98 L337.55,71.94 L337.76,71.88 L337.98,71.82 L338.19,71.75 L338.41,71.66 L338.62,71.56 L338.83,71.44 L339.05,71.30 L339.26,71.12 L339.48,70.90 L339.69,70.61 L339.90,70.25 L340.12,69.78 L340.33,69.19 L340.55,68.43 L340.76,67.47 L340.97,66.28 L341.19,64.83 L341.40,63.07 L341.62,60.99 L341.83,58.57 L342.04,55.82 L342.26,52.76 L342.47,49.44 L342.69,45.93 L342.90,42.33 L343.11,38.79 L343.33,35.44 L343.54,32.48 L343.75,30.10 L343.97,28.48 L344.18,27.77 L344.40,28.03 L344.61,29.23 L344.82,31.27 L345.04,33.98 L345.25,37.17 L345.47,40.64 L345.68,44.23 L345.89,47.79 L346.11,51.20 L346.32,54.39 L346.54,57.29 L346.75,59.86 L346.96,62.10 L347.18,64.00 L347.39,65.59 L347.61,66.90 L347.82,67.95 L348.03,68.79 L348.25,69.45 L348.46,69.97 L348.68,70.37 L348.89,70.68 L349.10,70.93 L349.32,71.11 L349.53,71.26 L349.75,71.38 L349.96,71.47 L350.17,71.54 L350.39,71.59 L350.60,71.62 L350.82,71.64 L351.03,71.64 L351.24,71.62 L351.46,71.58 L351.67,71.52 L351.89,71.44 L352.10,71.33 L352.31,71.19 L352.53,71.02 L352.74,70.83 L352.96,70.61 L353.17,70.37 L353.38,70.10 L353.60,69.82 L353.81,69.53 L354.03,69.24 L354.24,68.96 L354.45,68.70 L354.67,68.48 L354.88,68.30 L355.10,68.17 L355.31,68.12 L355.52,68.14 L355.74,68.23 L355.95,68.39 L356.17,68.61 L356.38,68.87 L356.59,69.16 L356.81,69.47 L357.02,69.79 L357.24,70.11 L357.45,70.42 L357.66,70.71 L357.88,70.98 L358.09,71.23 L358.31,71.46 L358.52,71.66 L358.73,71.83 L358.95,71.98 L359.16,72.11 L359.38,72.21 L359.59,72.30 L359.80,72.38 L360.02,72.44 L360.23,72.49 L360.44,72.53 L360.66,72.56 L360.87,72.59 L361.09,72.61 L361.30,72.63 L361.51,72.65 L361.73,72.66 L361.94,72.67 L362.16,72.69 L362.37,72.70 L362.58,72.71 L362.80,72.71 L363.01,72.72 L363.23,72.73 L363.44,72.74 L363.65,72.74 L363.87,72.75 L364.08,72.76 L364.30,72.76 L364.51,72.77 L364.72,72.77 L364.94,72.78 L365.15,72.78 L365.37,72.79 L365.58,72.79 L365.79,72.80 L366.01,72.80 L366.22,72.80 L366.44,72.81 L366.65,72.81 L366.86,72.81 L367.08,72.82 L367.29,72.82 L367.51,72.82 L367.72,72.83 L367.93,72.83 L368.15,72.83 L368.36,72.83 L368.58,72.84 L368.79,72.84 L369.00,72.84 L369.22,72.84 L369.43,72.84 L369.65,72.85 L369.86,72.85 L370.07,72.85 L370.29,72.85 L370.50,72.85 L370.72,72.86 L370.93,72.86 L371.14,72.86 L371.36,72.86 L371.57,72.86 L371.79,72.86 L372.00,72.87 L372.21,72.87 L372.43,72.87 L372.64,72.87 L372.86,72.87 L373.07,72.87 L373.28,72.87 L373.50,72.87 L373.71,72.88 L373.93,72.88 L374.14,72.88 L374.35,72.88 L374.57,72.88 L374.78,72.88 L375.00,72.88 L375.21,72.88 L375.42,72.88 L375.64,72.89 L375.85,72.89 L376.07,72.89 L376.28,72.89 L376.49,72.89 L376.71,72.89 L376.92,72.89 L377.13,72.89 L377.35,72.89 L377.56,72.89 L377.78,72.89 L377.99,72.89 L378.20,72.89 L378.42,72.90 L378.63,72.90 L378.85,72.90 L379.06,72.90 L379.27,72.90 L379.49,72.90 L379.70,72.90 L379.92,72.90 L380.13,72.90 L380.34,72.90 L380.56,72.90 L380.77,72.90 L380.99,72.90 L381.20,72.90 L381.41,72.90 L381.63,72.90 L381.84,72.91 L382.06,72.91 L382.27,72.91 L382.48,72.91 L382.70,72.91 L382.91,72.91 L383.13,72.91 L383.34,72.91 L383.55,72.91 L383.77,72.91 L383.98,72.91 L384.20,72.91 L384.41,72.91 L384.62,72.91 L384.84,72.91 L385.05,72.91 L385.27,72.91 L385.48,72.91 L385.69,72.91 L385.91,72.91 L386.12,72.91 L386.34,72.91 L386.55,72.91 L386.76,72.91 L386.98,72.92 L387.19,72.92 L387.41,72.92 L387.62,72.92 L387.83,72.92 L388.05,72.92 L388.26,72.92 L388.48,72.92 L388.69,72.92 L388.90,72.92 L389.12,72.92 L389.33,72.92 L389.55,72.92 L389.76,72.92 L389.97,72.92 L390.19,72.92 L390.40,72.92 L390.62,72.92 L390.83,72.92 L391.04,72.92 L391.26,72.92 L391.47,72.92 L391.69,72.92 L391.90,72.92 L392.11,72.92 L392.33,72.92 L392.54,72.92 L392.76,72.92 L392.97,72.92 L393.18,72.92 L393.40,72.92 L393.61,72.92 L393.82,72.92 L394.04,72.92 L394.25,72.92 L394.47,72.92 L394.68,72.92 L394.89,72.93 L395.11,72.93 L395.32,72.93 L395.54,72.93 L395.75,72.93 L395.96,72.93 L396.18,72.93 L396.39,72.93 L396.61,72.93 L396.82,72.93 L397.03,72.93 L397.25,72.93 L397.46,72.93 L397.68,72.93 L397.89,72.93 L398.10,72.93 L398.32,72.93 L398.53,72.93 L398.75,72.93 L398.96,72.93 L399.17,72.93 L399.39,72.93 L399.60,72.93 L399.82,72.93 L400.03,72.93 L400.24,72.93 L400.46,72.93 L400.67,72.93 L400.89,72.93 L401.10,72.93" stroke="#0ca04e"/>
</g>
<clipPath id="clipC"><rect x="440.2" y="11.8" width="77.90000000000003" height="232.39999999999998"/></clipPath>
<g clip-path="url(#clipC)" fill="none" stroke-width="0.6" stroke-linejoin="miter">
<path d="M440.20,214.31 L440.38,236.38 L440.56,220.99 L440.74,222.16 L440.93,219.09 L441.11,227.94 L441.29,214.55 L441.47,208.62 L441.65,217.21 L441.83,223.02 L442.02,235.35 L442.20,220.27 L442.38,215.16 L442.56,219.19 L442.74,215.57 L442.92,215.50 L443.11,221.09 L443.29,222.36 L443.47,216.17 L443.65,227.44 L443.83,219.84 L444.01,221.02 L444.19,216.94 L444.38,222.59 L444.56,225.76 L444.74,224.41 L444.92,214.87 L445.10,224.16 L445.28,216.41 L445.47,220.68 L445.65,224.83 L445.83,229.77 L446.01,217.12 L446.19,212.86 L446.37,220.90 L446.56,227.86 L446.74,217.86 L446.92,234.99 L447.10,207.84 L447.28,229.66 L447.46,227.50 L447.64,227.15 L447.83,214.65 L448.01,228.76 L448.19,227.56 L448.37,228.09 L448.55,217.52 L448.73,218.52 L448.92,228.45 L449.10,222.37 L449.28,217.83 L449.46,214.82 L449.64,221.92 L449.82,211.51 L450.01,224.01 L450.19,221.33 L450.37,210.36 L450.55,223.33 L450.73,228.20 L450.91,222.09 L451.10,211.97 L451.28,216.66 L451.46,226.01 L451.64,212.28 L451.82,218.29 L452.00,228.13 L452.18,218.97 L452.37,217.10 L452.55,226.08 L452.73,235.95 L452.91,223.54 L453.09,212.47 L453.27,210.69 L453.46,219.50 L453.64,209.53 L453.82,220.45 L454.00,227.12 L454.18,205.61 L454.36,220.20 L454.55,223.48 L454.73,217.94 L454.91,224.00 L455.09,224.73 L455.27,228.32 L455.45,236.62 L455.63,223.69 L455.82,215.85 L456.00,208.77 L456.18,213.74 L456.36,226.34 L456.54,223.98 L456.72,224.81 L456.91,224.71 L457.09,232.16 L457.27,228.95 L457.45,228.44 L457.63,217.53 L457.81,218.07 L458.00,213.52 L458.18,217.75 L458.36,222.54 L458.54,214.08 L458.72,217.87 L458.90,235.03 L459.08,220.81 L459.27,212.31 L459.45,213.96 L459.63,221.45 L459.81,227.45 L459.99,221.44 L460.17,227.60 L460.36,224.03 L460.54,214.81 L460.72,228.66 L460.90,219.06 L461.08,234.14 L461.26,218.17 L461.45,221.03 L461.63,218.43 L461.81,220.20 L461.99,224.87 L462.17,220.69 L462.35,229.54 L462.53,224.62 L462.72,232.08 L462.90,222.30 L463.08,230.17 L463.26,229.58 L463.44,220.88 L463.62,236.79 L463.81,231.55 L463.99,225.29 L464.17,220.48 L464.35,221.22 L464.53,220.63 L464.71,225.80 L464.90,214.39 L465.08,222.05 L465.26,217.77 L465.44,232.39 L465.62,226.58 L465.80,232.39 L465.99,236.53 L466.17,224.68 L466.35,234.58 L466.53,224.00 L466.71,225.62 L466.89,215.44 L467.07,222.07 L467.26,230.74 L467.44,224.70 L467.62,219.06 L467.80,221.51 L467.98,216.70 L468.16,217.10 L468.35,212.16 L468.53,228.55 L468.71,228.43 L468.89,220.65 L469.07,212.70 L469.25,219.79 L469.44,234.25 L469.62,212.72 L469.80,218.01 L469.98,218.20 L470.16,226.36 L470.34,213.01 L470.52,222.87 L470.71,215.84 L470.89,218.82 L471.07,213.26 L471.25,224.46 L471.43,217.88 L471.61,217.22 L471.80,228.07 L471.98,223.22 L472.16,235.80 L472.34,223.65 L472.52,221.46 L472.70,221.70 L472.89,235.69 L473.07,228.87 L473.25,218.99 L473.43,222.85 L473.61,217.43 L473.79,225.01 L473.97,217.47 L474.16,217.08 L474.34,223.49 L474.52,229.33 L474.70,226.08 L474.88,225.36 L475.06,220.78 L475.25,204.92 L475.43,219.35 L475.61,219.04 L475.79,223.78 L475.97,231.60 L476.15,225.15 L476.34,208.98 L476.52,220.32 L476.70,218.61 L476.88,224.73 L477.06,219.65 L477.24,204.16 L477.42,214.11 L477.61,217.83 L477.79,206.65 L477.97,219.02 L478.15,217.93 L478.33,226.65 L478.51,218.94 L478.70,215.62 L478.88,218.80 L479.06,219.69 L479.24,225.82 L479.42,213.34 L479.60,204.92 L479.79,234.44 L479.97,224.32 L480.15,219.66 L480.33,234.38 L480.51,211.96 L480.69,214.21 L480.88,216.47 L481.06,222.45 L481.24,216.30 L481.42,224.32 L481.60,216.98 L481.78,227.65 L481.96,222.25 L482.15,208.50 L482.33,219.03 L482.51,211.84 L482.69,218.34 L482.87,219.23 L483.05,233.77 L483.24,217.72 L483.42,208.80 L483.60,219.95 L483.78,211.72 L483.96,231.15 L484.14,223.90 L484.33,229.53 L484.51,216.75 L484.69,212.58 L484.87,221.28 L485.05,210.47 L485.23,213.16 L485.41,214.53 L485.60,218.55 L485.78,209.63 L485.96,206.15 L486.14,228.89 L486.32,216.11 L486.50,218.49 L486.69,223.60 L486.87,222.63 L487.05,215.57 L487.23,216.97 L487.41,230.43 L487.59,228.18 L487.78,224.92 L487.96,230.96 L488.14,207.91 L488.32,221.11 L488.50,218.51 L488.68,207.86 L488.86,222.66 L489.05,224.73 L489.23,222.28 L489.41,208.86 L489.59,219.30 L489.77,222.17 L489.95,219.29 L490.14,222.74 L490.32,224.22 L490.50,230.30 L490.68,222.63 L490.86,236.16 L491.04,222.66 L491.23,223.17 L491.41,226.46 L491.59,220.97 L491.77,219.39 L491.95,229.66 L492.13,207.67 L492.31,210.13 L492.50,235.30 L492.68,226.62 L492.86,225.40 L493.04,223.92 L493.22,223.84 L493.40,215.88 L493.59,220.26 L493.77,215.48 L493.95,229.76 L494.13,226.45 L494.31,223.91 L494.49,224.93 L494.68,221.58 L494.86,214.97 L495.04,233.67 L495.22,226.84 L495.40,221.51 L495.58,226.55 L495.77,231.04 L495.95,230.49 L496.13,227.15 L496.31,228.27 L496.49,221.42 L496.67,231.79 L496.85,235.91 L497.04,229.24 L497.22,214.59 L497.40,227.31 L497.58,227.50 L497.76,234.15 L497.94,207.32 L498.13,210.98 L498.31,225.04 L498.49,217.04 L498.67,225.77 L498.85,222.66 L499.03,228.89 L499.22,219.62 L499.40,216.32 L499.58,226.72 L499.76,221.49 L499.94,215.61 L500.12,210.34 L500.30,238.32 L500.49,220.95 L500.67,221.74 L500.85,210.44 L501.03,216.64 L501.21,222.27 L501.39,225.46 L501.58,228.42 L501.76,218.40 L501.94,226.47 L502.12,230.86 L502.30,219.95 L502.48,222.85 L502.67,211.45 L502.85,217.92 L503.03,214.20 L503.21,227.67 L503.39,222.07 L503.57,233.71 L503.75,224.49 L503.94,228.50 L504.12,226.62 L504.30,224.56 L504.48,216.15 L504.66,234.07 L504.84,222.58 L505.03,211.04 L505.21,219.34 L505.39,215.85 L505.57,230.86 L505.75,229.99 L505.93,233.15 L506.12,237.44 L506.30,218.72 L506.48,210.51 L506.66,216.73 L506.84,225.61 L507.02,207.23 L507.20,218.86 L507.39,228.38 L507.57,217.13 L507.75,221.93 L507.93,216.68 L508.11,234.21 L508.29,235.52 L508.48,215.85 L508.66,216.94 L508.84,223.39 L509.02,227.12 L509.20,225.36 L509.38,226.87 L509.57,229.10 L509.75,230.60 L509.93,237.30 L510.11,223.85 L510.29,219.55 L510.47,222.18 L510.66,237.10 L510.84,228.23 L511.02,227.37 L511.20,231.54 L511.38,230.78 L511.56,236.85 L511.74,217.15 L511.93,223.81 L512.11,227.43 L512.29,227.81 L512.47,219.73 L512.65,211.43 L512.83,220.35 L513.02,213.90 L513.20,221.32 L513.38,229.29 L513.56,226.57 L513.74,214.23 L513.92,216.77 L514.11,222.98 L514.29,229.20 L514.47,221.13 L514.65,222.95 L514.83,211.34 L515.01,218.08 L515.19,215.98 L515.38,222.50 L515.56,219.28 L515.74,215.16 L515.92,213.69 L516.10,222.22 L516.28,216.42 L516.47,228.25 L516.65,221.64 L516.83,218.80 L517.01,226.56 L517.19,212.51 L517.37,226.48 L517.56,215.56 L517.74,225.13 L517.92,215.73 L518.10,213.91" stroke="#111"/>
<path d="M440.20,185.48 L440.38,177.25 L440.56,181.64 L440.74,176.34 L440.93,171.38 L441.11,175.60 L441.29,167.25 L441.47,174.10 L441.65,172.24 L441.83,167.42 L442.02,178.56 L442.20,177.92 L442.38,174.54 L442.56,176.17 L442.74,180.16 L442.92,171.23 L443.11,165.08 L443.29,166.93 L443.47,174.96 L443.65,172.52 L443.83,163.91 L444.01,177.68 L444.19,172.09 L444.38,178.90 L444.56,176.39 L444.74,168.54 L444.92,171.06 L445.10,166.84 L445.28,166.22 L445.47,168.82 L445.65,172.69 L445.83,176.89 L446.01,165.60 L446.19,173.42 L446.37,170.07 L446.56,168.71 L446.74,175.32 L446.92,167.91 L447.10,176.43 L447.28,167.90 L447.46,164.92 L447.64,173.26 L447.83,162.18 L448.01,163.49 L448.19,168.42 L448.37,169.32 L448.55,167.94 L448.73,159.45 L448.92,162.61 L449.10,171.75 L449.28,171.86 L449.46,164.16 L449.64,170.49 L449.82,170.19 L450.01,174.21 L450.19,165.52 L450.37,176.41 L450.55,166.32 L450.73,176.35 L450.91,173.79 L451.10,164.18 L451.28,167.68 L451.46,170.66 L451.64,174.30 L451.82,162.38 L452.00,166.79 L452.18,172.39 L452.37,171.69 L452.55,164.11 L452.73,164.89 L452.91,171.52 L453.09,164.32 L453.27,170.59 L453.46,174.01 L453.64,169.55 L453.82,157.33 L454.00,175.37 L454.18,175.29 L454.36,176.65 L454.55,173.89 L454.73,161.28 L454.91,176.73 L455.09,171.42 L455.27,174.41 L455.45,168.97 L455.63,168.58 L455.82,168.65 L456.00,177.80 L456.18,171.24 L456.36,168.05 L456.54,163.55 L456.72,172.31 L456.91,170.05 L457.09,170.80 L457.27,174.96 L457.45,173.67 L457.63,170.10 L457.81,171.18 L458.00,170.56 L458.18,173.71 L458.36,173.60 L458.54,170.86 L458.72,165.92 L458.90,174.39 L459.08,174.69 L459.27,164.88 L459.45,172.15 L459.63,168.29 L459.81,159.34 L459.99,170.01 L460.17,174.97 L460.36,166.60 L460.54,166.71 L460.72,175.31 L460.90,164.73 L461.08,160.96 L461.26,168.60 L461.45,173.27 L461.63,173.29 L461.81,167.52 L461.99,168.57 L462.17,170.53 L462.35,168.12 L462.53,165.71 L462.72,159.19 L462.90,173.50 L463.08,168.80 L463.26,181.74 L463.44,172.92 L463.62,162.39 L463.81,169.73 L463.99,171.35 L464.17,171.57 L464.35,171.75 L464.53,171.71 L464.71,168.71 L464.90,172.56 L465.08,180.14 L465.26,166.98 L465.44,167.21 L465.62,172.55 L465.80,175.14 L465.99,172.91 L466.17,174.81 L466.35,168.40 L466.53,167.41 L466.71,171.72 L466.89,171.71 L467.07,176.60 L467.26,175.92 L467.44,158.95 L467.62,171.82 L467.80,164.51 L467.98,157.23 L468.16,169.58 L468.35,165.92 L468.53,165.65 L468.71,160.88 L468.89,162.11 L469.07,166.00 L469.25,159.50 L469.44,166.30 L469.62,167.28 L469.80,165.85 L469.98,168.00 L470.16,166.06 L470.34,160.50 L470.52,161.04 L470.71,166.76 L470.89,170.81 L471.07,166.64 L471.25,163.31 L471.43,166.55 L471.61,156.62 L471.80,160.58 L471.98,163.57 L472.16,165.07 L472.34,163.70 L472.52,163.89 L472.70,153.36 L472.89,162.25 L473.07,166.29 L473.25,155.81 L473.43,158.95 L473.61,163.16 L473.79,172.23 L473.97,168.16 L474.16,172.55 L474.34,171.39 L474.52,162.43 L474.70,164.28 L474.88,158.74 L475.06,170.43 L475.25,168.17 L475.43,167.46 L475.61,167.80 L475.79,166.77 L475.97,165.51 L476.15,165.84 L476.34,170.48 L476.52,160.52 L476.70,159.23 L476.88,164.45 L477.06,170.21 L477.24,165.62 L477.42,163.39 L477.61,168.57 L477.79,164.97 L477.97,154.96 L478.15,159.42 L478.33,154.04 L478.51,163.36 L478.70,162.25 L478.88,166.67 L479.06,176.47 L479.24,161.52 L479.42,164.55 L479.60,162.63 L479.79,152.51 L479.97,160.75 L480.15,160.96 L480.33,165.91 L480.51,160.37 L480.69,158.13 L480.88,167.49 L481.06,164.25 L481.24,160.15 L481.42,160.86 L481.60,163.16 L481.78,168.75 L481.96,171.78 L482.15,158.21 L482.33,170.55 L482.51,165.03 L482.69,166.57 L482.87,169.64 L483.05,160.00 L483.24,169.10 L483.42,158.34 L483.60,162.54 L483.78,160.63 L483.96,173.28 L484.14,176.85 L484.33,168.69 L484.51,167.51 L484.69,162.33 L484.87,173.65 L485.05,171.94 L485.23,169.48 L485.41,164.46 L485.60,163.29 L485.78,164.63 L485.96,171.68 L486.14,160.39 L486.32,165.69 L486.50,173.26 L486.69,169.55 L486.87,173.83 L487.05,167.25 L487.23,167.35 L487.41,177.10 L487.59,168.50 L487.78,166.99 L487.96,162.77 L488.14,157.98 L488.32,172.77 L488.50,163.35 L488.68,161.75 L488.86,169.78 L489.05,161.10 L489.23,158.84 L489.41,162.76 L489.59,165.31 L489.77,167.01 L489.95,168.24 L490.14,170.55 L490.32,165.20 L490.50,167.62 L490.68,165.31 L490.86,162.74 L491.04,167.94 L491.23,167.74 L491.41,175.20 L491.59,169.04 L491.77,159.44 L491.95,169.11 L492.13,164.96 L492.31,174.06 L492.50,157.85 L492.68,163.07 L492.86,163.12 L493.04,167.02 L493.22,165.84 L493.40,158.67 L493.59,157.37 L493.77,167.54 L493.95,173.93 L494.13,173.91 L494.31,164.80 L494.49,169.09 L494.68,162.58 L494.86,159.77 L495.04,173.00 L495.22,170.31 L495.40,165.34 L495.58,165.17 L495.77,171.58 L495.95,168.67 L496.13,165.45 L496.31,168.51 L496.49,167.09 L496.67,165.15 L496.85,163.63 L497.04,171.74 L497.22,164.85 L497.40,161.37 L497.58,176.10 L497.76,173.32 L497.94,169.74 L498.13,166.82 L498.31,168.10 L498.49,159.96 L498.67,167.00 L498.85,168.42 L499.03,166.04 L499.22,169.13 L499.40,163.17 L499.58,167.81 L499.76,159.15 L499.94,166.69 L500.12,163.76 L500.30,160.20 L500.49,164.72 L500.67,166.73 L500.85,163.65 L501.03,171.08 L501.21,163.03 L501.39,171.00 L501.58,169.92 L501.76,163.31 L501.94,173.27 L502.12,159.49 L502.30,168.74 L502.48,166.39 L502.67,169.77 L502.85,158.28 L503.03,160.08 L503.21,161.78 L503.39,165.90 L503.57,166.19 L503.75,165.81 L503.94,164.40 L504.12,162.17 L504.30,158.89 L504.48,163.47 L504.66,168.14 L504.84,170.50 L505.03,163.01 L505.21,170.72 L505.39,158.84 L505.57,169.28 L505.75,160.15 L505.93,166.67 L506.12,160.80 L506.30,160.74 L506.48,162.83 L506.66,172.47 L506.84,162.27 L507.02,168.59 L507.20,166.32 L507.39,167.07 L507.57,167.15 L507.75,168.74 L507.93,159.83 L508.11,165.96 L508.29,167.49 L508.48,162.98 L508.66,167.62 L508.84,156.01 L509.02,169.53 L509.20,162.60 L509.38,164.73 L509.57,170.02 L509.75,171.49 L509.93,163.48 L510.11,163.19 L510.29,171.20 L510.47,154.35 L510.66,173.01 L510.84,172.85 L511.02,161.38 L511.20,172.46 L511.38,168.46 L511.56,168.98 L511.74,155.45 L511.93,164.41 L512.11,165.91 L512.29,164.87 L512.47,165.01 L512.65,165.54 L512.83,154.91 L513.02,166.01 L513.20,163.64 L513.38,166.62 L513.56,164.66 L513.74,167.07 L513.92,168.48 L514.11,175.79 L514.29,163.07 L514.47,175.35 L514.65,165.90 L514.83,162.70 L515.01,159.97 L515.19,171.27 L515.38,159.61 L515.56,171.47 L515.74,168.69 L515.92,164.20 L516.10,160.45 L516.28,169.31 L516.47,167.66 L516.65,170.50 L516.83,166.84 L517.01,164.29 L517.19,169.39 L517.37,160.85 L517.56,170.82 L517.74,166.91 L517.92,161.14 L518.10,161.59" stroke="#ff0a0a"/>
<path d="M440.20,113.55 L440.38,120.02 L440.56,104.95 L440.74,116.66 L440.93,126.18 L441.11,105.51 L441.29,122.24 L441.47,105.91 L441.65,116.46 L441.83,122.71 L442.02,121.96 L442.20,109.93 L442.38,107.90 L442.56,107.15 L442.74,117.86 L442.92,112.25 L443.11,114.16 L443.29,115.34 L443.47,116.03 L443.65,116.58 L443.83,114.44 L444.01,105.71 L444.19,120.94 L444.38,101.33 L444.56,119.68 L444.74,110.40 L444.92,112.34 L445.10,110.64 L445.28,111.32 L445.47,112.97 L445.65,111.59 L445.83,107.42 L446.01,117.08 L446.19,109.85 L446.37,119.39 L446.56,111.83 L446.74,108.99 L446.92,114.62 L447.10,121.44 L447.28,107.67 L447.46,110.81 L447.64,119.30 L447.83,107.11 L448.01,107.78 L448.19,112.81 L448.37,105.85 L448.55,99.68 L448.73,103.48 L448.92,113.63 L449.10,114.99 L449.28,114.64 L449.46,113.59 L449.64,105.45 L449.82,114.97 L450.01,117.31 L450.19,108.04 L450.37,116.22 L450.55,108.01 L450.73,112.43 L450.91,113.31 L451.10,104.05 L451.28,118.81 L451.46,107.20 L451.64,110.98 L451.82,109.03 L452.00,113.80 L452.18,113.69 L452.37,111.66 L452.55,118.65 L452.73,113.02 L452.91,109.65 L453.09,99.49 L453.27,110.32 L453.46,110.33 L453.64,107.46 L453.82,107.57 L454.00,114.90 L454.18,117.21 L454.36,121.52 L454.55,117.82 L454.73,108.63 L454.91,113.51 L455.09,105.43 L455.27,115.85 L455.45,113.95 L455.63,109.07 L455.82,111.56 L456.00,110.80 L456.18,108.84 L456.36,118.59 L456.54,123.75 L456.72,116.05 L456.91,117.20 L457.09,112.68 L457.27,110.11 L457.45,122.80 L457.63,109.97 L457.81,113.75 L458.00,111.15 L458.18,114.67 L458.36,111.44 L458.54,114.63 L458.72,105.30 L458.90,111.11 L459.08,118.44 L459.27,106.40 L459.45,108.21 L459.63,118.38 L459.81,113.52 L459.99,116.82 L460.17,100.26 L460.36,112.15 L460.54,99.18 L460.72,104.40 L460.90,113.39 L461.08,117.22 L461.26,103.79 L461.45,105.71 L461.63,108.29 L461.81,110.56 L461.99,104.50 L462.17,122.44 L462.35,114.03 L462.53,109.25 L462.72,108.42 L462.90,122.63 L463.08,122.17 L463.26,108.45 L463.44,112.60 L463.62,117.13 L463.81,104.83 L463.99,107.78 L464.17,117.44 L464.35,107.14 L464.53,108.40 L464.71,103.74 L464.90,106.64 L465.08,117.41 L465.26,106.20 L465.44,103.72 L465.62,107.05 L465.80,119.04 L465.99,110.97 L466.17,107.26 L466.35,110.85 L466.53,112.32 L466.71,110.71 L466.89,101.03 L467.07,111.61 L467.26,109.04 L467.44,114.35 L467.62,103.31 L467.80,115.38 L467.98,107.61 L468.16,101.51 L468.35,116.79 L468.53,107.49 L468.71,111.96 L468.89,109.26 L469.07,115.57 L469.25,115.61 L469.44,115.66 L469.62,113.63 L469.80,101.89 L469.98,101.54 L470.16,111.00 L470.34,105.18 L470.52,112.32 L470.71,110.80 L470.89,102.83 L471.07,104.73 L471.25,104.23 L471.43,105.45 L471.61,108.86 L471.80,113.33 L471.98,116.63 L472.16,104.97 L472.34,107.01 L472.52,117.67 L472.70,114.34 L472.89,110.99 L473.07,97.96 L473.25,104.71 L473.43,110.57 L473.61,103.79 L473.79,119.79 L473.97,110.19 L474.16,111.14 L474.34,104.14 L474.52,104.40 L474.70,106.28 L474.88,106.46 L475.06,108.42 L475.25,111.46 L475.43,110.74 L475.61,114.57 L475.79,102.65 L475.97,110.52 L476.15,110.63 L476.34,117.42 L476.52,108.27 L476.70,110.98 L476.88,105.18 L477.06,111.41 L477.24,111.24 L477.42,106.01 L477.61,106.93 L477.79,108.94 L477.97,111.99 L478.15,103.25 L478.33,113.53 L478.51,107.38 L478.70,121.08 L478.88,116.44 L479.06,107.01 L479.24,105.88 L479.42,121.07 L479.60,112.23 L479.79,111.91 L479.97,106.90 L480.15,108.38 L480.33,113.10 L480.51,112.14 L480.69,104.82 L480.88,121.01 L481.06,112.09 L481.24,104.17 L481.42,113.99 L481.60,108.07 L481.78,112.90 L481.96,106.14 L482.15,110.75 L482.33,100.71 L482.51,110.79 L482.69,101.21 L482.87,109.71 L483.05,96.89 L483.24,108.56 L483.42,112.54 L483.60,111.33 L483.78,114.93 L483.96,103.46 L484.14,116.81 L484.33,117.00 L484.51,102.84 L484.69,104.89 L484.87,106.03 L485.05,108.80 L485.23,109.87 L485.41,96.95 L485.60,111.95 L485.78,107.69 L485.96,103.85 L486.14,113.80 L486.32,107.29 L486.50,114.79 L486.69,111.77 L486.87,105.85 L487.05,115.03 L487.23,113.21 L487.41,106.62 L487.59,101.07 L487.78,106.47 L487.96,112.38 L488.14,108.10 L488.32,118.23 L488.50,110.68 L488.68,110.37 L488.86,111.46 L489.05,105.00 L489.23,108.87 L489.41,106.18 L489.59,97.71 L489.77,100.62 L489.95,113.34 L490.14,107.40 L490.32,109.04 L490.50,102.21 L490.68,106.71 L490.86,113.63 L491.04,110.18 L491.23,107.09 L491.41,117.43 L491.59,109.42 L491.77,107.97 L491.95,115.51 L492.13,101.01 L492.31,112.54 L492.50,104.16 L492.68,105.81 L492.86,106.35 L493.04,110.46 L493.22,110.35 L493.40,111.35 L493.59,110.88 L493.77,116.90 L493.95,118.37 L494.13,113.43 L494.31,113.69 L494.49,107.99 L494.68,104.36 L494.86,112.88 L495.04,110.08 L495.22,114.23 L495.40,100.73 L495.58,121.96 L495.77,103.54 L495.95,110.13 L496.13,114.95 L496.31,103.00 L496.49,107.20 L496.67,99.83 L496.85,98.03 L497.04,100.27 L497.22,110.56 L497.40,111.53 L497.58,108.47 L497.76,116.45 L497.94,117.09 L498.13,110.08 L498.31,109.02 L498.49,108.78 L498.67,107.89 L498.85,116.77 L499.03,111.40 L499.22,108.56 L499.40,109.11 L499.58,113.03 L499.76,108.30 L499.94,111.92 L500.12,110.18 L500.30,117.21 L500.49,116.26 L500.67,103.32 L500.85,109.68 L501.03,114.10 L501.21,108.31 L501.39,114.71 L501.58,112.37 L501.76,113.72 L501.94,110.48 L502.12,112.39 L502.30,113.55 L502.48,103.56 L502.67,106.41 L502.85,105.95 L503.03,119.60 L503.21,112.71 L503.39,113.12 L503.57,112.18 L503.75,108.76 L503.94,107.69 L504.12,115.77 L504.30,109.68 L504.48,119.57 L504.66,113.68 L504.84,112.21 L505.03,110.71 L505.21,111.50 L505.39,112.30 L505.57,119.64 L505.75,123.79 L505.93,106.31 L506.12,113.45 L506.30,64.00 L506.48,66.00 L506.66,72.00 L506.84,110.11 L507.02,100.42 L507.20,115.78 L507.39,112.33 L507.57,112.16 L507.75,113.10 L507.93,113.99 L508.11,124.41 L508.29,113.75 L508.48,117.08 L508.66,110.33 L508.84,114.75 L509.02,111.46 L509.20,112.33 L509.38,108.59 L509.57,109.08 L509.75,115.51 L509.93,117.00 L510.11,115.61 L510.29,109.97 L510.47,116.61 L510.66,101.36 L510.84,118.19 L511.02,113.31 L511.20,116.32 L511.38,119.42 L511.56,111.49 L511.74,118.45 L511.93,111.46 L512.11,116.43 L512.29,111.69 L512.47,115.28 L512.65,121.07 L512.83,110.55 L513.02,110.77 L513.20,112.22 L513.38,115.40 L513.56,125.80 L513.74,111.05 L513.92,103.73 L514.11,110.72 L514.29,106.08 L514.47,108.56 L514.65,114.16 L514.83,109.28 L515.01,110.70 L515.19,104.77 L515.38,115.07 L515.56,110.44 L515.74,119.66 L515.92,119.51 L516.10,109.92 L516.28,112.45 L516.47,114.61 L516.65,118.18 L516.83,106.03 L517.01,114.09 L517.19,123.84 L517.37,114.10 L517.56,115.70 L517.74,114.63 L517.92,108.70 L518.10,119.48" stroke="#0a0af0"/>
<path d="M440.20,64.06 L440.38,61.75 L440.56,70.24 L440.74,62.48 L440.93,58.27 L441.11,65.00 L441.29,59.01 L441.47,60.54 L441.65,63.66 L441.83,61.94 L442.02,59.52 L442.20,60.33 L442.38,60.17 L442.56,66.85 L442.74,59.68 L442.92,60.25 L443.11,71.55 L443.29,60.33 L443.47,68.10 L443.65,67.45 L443.83,61.87 L444.01,57.07 L444.19,64.20 L444.38,65.04 L444.56,66.17 L444.74,62.78 L444.92,67.10 L445.10,71.66 L445.28,58.55 L445.47,68.00 L445.65,63.25 L445.83,60.45 L446.01,61.41 L446.19,69.78 L446.37,66.40 L446.56,55.88 L446.74,63.02 L446.92,62.20 L447.10,62.09 L447.28,60.82 L447.46,57.27 L447.64,66.09 L447.83,59.27 L448.01,61.47 L448.19,60.61 L448.37,60.16 L448.55,65.77 L448.73,64.44 L448.92,60.44 L449.10,59.44 L449.28,61.27 L449.46,66.76 L449.64,63.59 L449.82,64.02 L450.01,61.91 L450.19,62.21 L450.37,64.03 L450.55,56.23 L450.73,69.38 L450.91,60.28 L451.10,61.14 L451.28,68.41 L451.46,64.19 L451.64,63.53 L451.82,61.17 L452.00,57.47 L452.18,64.12 L452.37,67.98 L452.55,60.04 L452.73,68.65 L452.91,59.21 L453.09,60.72 L453.27,65.44 L453.46,63.54 L453.64,66.18 L453.82,60.75 L454.00,59.66 L454.18,56.50 L454.36,59.03 L454.55,59.53 L454.73,58.21 L454.91,64.82 L455.09,61.11 L455.27,56.03 L455.45,72.65 L455.63,60.31 L455.82,58.66 L456.00,68.08 L456.18,67.75 L456.36,58.89 L456.54,57.62 L456.72,59.37 L456.91,67.41 L457.09,61.88 L457.27,59.94 L457.45,62.85 L457.63,67.48 L457.81,57.57 L458.00,61.34 L458.18,57.49 L458.36,70.95 L458.54,69.55 L458.72,66.21 L458.90,62.04 L459.08,65.00 L459.27,54.45 L459.45,63.44 L459.63,57.26 L459.81,57.26 L459.99,59.57 L460.17,60.87 L460.36,64.34 L460.54,64.77 L460.72,63.06 L460.90,58.42 L461.08,64.54 L461.26,61.47 L461.45,66.37 L461.63,58.35 L461.81,52.67 L461.99,59.94 L462.17,69.88 L462.35,63.45 L462.53,60.89 L462.72,64.94 L462.90,63.45 L463.08,63.26 L463.26,59.51 L463.44,61.71 L463.62,62.14 L463.81,58.90 L463.99,57.05 L464.17,61.79 L464.35,64.90 L464.53,63.64 L464.71,63.01 L464.90,63.01 L465.08,70.18 L465.26,62.01 L465.44,64.94 L465.62,68.38 L465.80,61.11 L465.99,61.87 L466.17,64.82 L466.35,67.24 L466.53,62.00 L466.71,62.18 L466.89,61.12 L467.07,56.18 L467.26,64.99 L467.44,59.77 L467.62,54.18 L467.80,60.15 L467.98,54.12 L468.16,56.85 L468.35,60.73 L468.53,57.15 L468.71,64.71 L468.89,55.04 L469.07,61.62 L469.25,64.87 L469.44,66.14 L469.62,64.09 L469.80,61.46 L469.98,60.87 L470.16,60.33 L470.34,64.87 L470.52,58.04 L470.71,62.51 L470.89,60.17 L471.07,61.44 L471.25,59.52 L471.43,68.62 L471.61,58.01 L471.80,61.46 L471.98,61.55 L472.16,62.80 L472.34,62.20 L472.52,62.10 L472.70,64.22 L472.89,54.77 L473.07,60.53 L473.25,51.33 L473.43,61.38 L473.61,56.01 L473.79,56.86 L473.97,60.28 L474.16,65.82 L474.34,62.71 L474.52,61.66 L474.70,65.87 L474.88,56.95 L475.06,52.60 L475.25,58.95 L475.43,59.52 L475.61,65.28 L475.79,68.72 L475.97,55.55 L476.15,69.69 L476.34,66.58 L476.52,63.83 L476.70,62.06 L476.88,69.74 L477.06,60.99 L477.24,58.89 L477.42,61.23 L477.61,55.51 L477.79,62.52 L477.97,60.33 L478.15,62.05 L478.33,62.21 L478.51,56.88 L478.70,65.96 L478.88,57.16 L479.06,64.44 L479.24,55.07 L479.42,62.59 L479.60,55.05 L479.79,61.44 L479.97,58.85 L480.15,53.09 L480.33,57.19 L480.51,61.74 L480.69,63.90 L480.88,55.99 L481.06,53.54 L481.24,58.34 L481.42,60.90 L481.60,59.34 L481.78,58.71 L481.96,65.06 L482.15,65.54 L482.33,64.73 L482.51,58.38 L482.69,62.27 L482.87,61.28 L483.05,56.62 L483.24,65.44 L483.42,62.45 L483.60,60.30 L483.78,67.57 L483.96,65.11 L484.14,65.49 L484.33,66.82 L484.51,65.02 L484.69,57.51 L484.87,60.87 L485.05,66.18 L485.23,59.47 L485.41,62.56 L485.60,63.96 L485.78,71.53 L485.96,67.43 L486.14,65.93 L486.32,61.83 L486.50,66.04 L486.69,64.60 L486.87,62.00 L487.05,67.80 L487.23,64.54 L487.41,59.81 L487.59,67.51 L487.78,61.76 L487.96,65.00 L488.14,53.61 L488.32,62.72 L488.50,59.22 L488.68,59.15 L488.86,55.61 L489.05,71.03 L489.23,62.34 L489.41,63.85 L489.59,67.18 L489.77,62.53 L489.95,64.97 L490.14,57.88 L490.32,63.83 L490.50,61.54 L490.68,65.05 L490.86,64.59 L491.04,54.05 L491.23,56.20 L491.41,59.41 L491.59,66.11 L491.77,64.96 L491.95,64.91 L492.13,55.74 L492.31,54.29 L492.50,61.10 L492.68,62.24 L492.86,61.24 L493.04,64.92 L493.22,62.95 L493.40,59.13 L493.59,60.32 L493.77,64.24 L493.95,64.01 L494.13,63.48 L494.31,72.41 L494.49,62.83 L494.68,64.31 L494.86,60.10 L495.04,62.54 L495.22,65.93 L495.40,66.12 L495.58,63.39 L495.77,65.51 L495.95,64.24 L496.13,56.90 L496.31,54.95 L496.49,72.88 L496.67,67.27 L496.85,63.92 L497.04,57.55 L497.22,59.32 L497.40,69.34 L497.58,55.08 L497.76,62.99 L497.94,67.53 L498.13,64.79 L498.31,67.13 L498.49,63.77 L498.67,73.38 L498.85,60.38 L499.03,55.18 L499.22,65.35 L499.40,69.75 L499.58,64.11 L499.76,68.31 L499.94,62.32 L500.12,59.83 L500.30,69.66 L500.49,70.30 L500.67,70.17 L500.85,62.68 L501.03,59.95 L501.21,59.87 L501.39,63.43 L501.58,66.47 L501.76,66.17 L501.94,58.75 L502.12,64.92 L502.30,64.22 L502.48,64.47 L502.67,64.00 L502.85,63.30 L503.03,66.29 L503.21,64.49 L503.39,64.83 L503.57,61.32 L503.75,65.41 L503.94,63.42 L504.12,55.81 L504.30,65.66 L504.48,62.78 L504.66,67.27 L504.84,63.11 L505.03,63.33 L505.21,64.47 L505.39,63.59 L505.57,61.90 L505.75,56.75 L505.93,70.54 L506.12,57.51 L506.30,43.00 L506.48,65.92 L506.66,64.85 L506.84,50.00 L507.02,66.27 L507.20,68.11 L507.39,64.41 L507.57,72.38 L507.75,59.38 L507.93,64.07 L508.11,61.80 L508.29,61.08 L508.48,64.22 L508.66,68.64 L508.84,60.37 L509.02,60.33 L509.20,65.76 L509.38,65.05 L509.57,70.40 L509.75,66.85 L509.93,63.79 L510.11,60.39 L510.29,63.69 L510.47,62.18 L510.66,57.64 L510.84,62.84 L511.02,62.12 L511.20,61.88 L511.38,61.11 L511.56,69.14 L511.74,65.34 L511.93,66.24 L512.11,60.36 L512.29,58.76 L512.47,61.56 L512.65,63.54 L512.83,61.29 L513.02,61.88 L513.20,66.23 L513.38,63.70 L513.56,58.82 L513.74,60.92 L513.92,60.04 L514.11,63.22 L514.29,58.09 L514.47,61.84 L514.65,65.14 L514.83,62.62 L515.01,59.03 L515.19,60.16 L515.38,62.98 L515.56,64.34 L515.74,65.68 L515.92,61.95 L516.10,57.50 L516.28,67.93 L516.47,63.65 L516.65,64.06 L516.83,63.69 L517.01,58.59 L517.19,61.33 L517.37,63.53 L517.56,66.49 L517.74,62.81 L517.92,53.47 L518.10,61.68" stroke="#159a15"/>
<line x1="478.7" y1="177.8" x2="478.7" y2="191" stroke="#000" stroke-width="1"/>
<line x1="506.4" y1="110" x2="506.4" y2="70" stroke="#1a1af0" stroke-width="1.1"/>
</g>
<rect x="49.7" y="11.8" width="156.40" height="232.40" fill="none" stroke="#000" stroke-width="1.25"/>
<line x1="101.83" y1="244.2" x2="101.83" y2="240.7" stroke="#000" stroke-width="1.2"/>
<line x1="101.83" y1="11.8" x2="101.83" y2="15.3" stroke="#000" stroke-width="1.2"/>
<line x1="153.97" y1="244.2" x2="153.97" y2="240.7" stroke="#000" stroke-width="1.2"/>
<line x1="153.97" y1="11.8" x2="153.97" y2="15.3" stroke="#000" stroke-width="1.2"/>
<line x1="75.77" y1="244.2" x2="75.77" y2="242.0" stroke="#000" stroke-width="1.2"/>
<line x1="75.77" y1="11.8" x2="75.77" y2="14.0" stroke="#000" stroke-width="1.2"/>
<line x1="127.90" y1="244.2" x2="127.90" y2="242.0" stroke="#000" stroke-width="1.2"/>
<line x1="127.90" y1="11.8" x2="127.90" y2="14.0" stroke="#000" stroke-width="1.2"/>
<line x1="180.03" y1="244.2" x2="180.03" y2="242.0" stroke="#000" stroke-width="1.2"/>
<line x1="180.03" y1="11.8" x2="180.03" y2="14.0" stroke="#000" stroke-width="1.2"/>
<line x1="49.7" y1="205.47" x2="53.2" y2="205.47" stroke="#000" stroke-width="1.2"/>
<line x1="206.1" y1="205.47" x2="202.6" y2="205.47" stroke="#000" stroke-width="1.2"/>
<line x1="49.7" y1="166.73" x2="53.2" y2="166.73" stroke="#000" stroke-width="1.2"/>
<line x1="206.1" y1="166.73" x2="202.6" y2="166.73" stroke="#000" stroke-width="1.2"/>
<line x1="49.7" y1="128.00" x2="53.2" y2="128.00" stroke="#000" stroke-width="1.2"/>
<line x1="206.1" y1="128.00" x2="202.6" y2="128.00" stroke="#000" stroke-width="1.2"/>
<line x1="49.7" y1="89.27" x2="53.2" y2="89.27" stroke="#000" stroke-width="1.2"/>
<line x1="206.1" y1="89.27" x2="202.6" y2="89.27" stroke="#000" stroke-width="1.2"/>
<line x1="49.7" y1="50.53" x2="53.2" y2="50.53" stroke="#000" stroke-width="1.2"/>
<line x1="206.1" y1="50.53" x2="202.6" y2="50.53" stroke="#000" stroke-width="1.2"/>
<line x1="49.7" y1="224.83" x2="51.900000000000006" y2="224.83" stroke="#000" stroke-width="1.2"/>
<line x1="206.1" y1="224.83" x2="203.9" y2="224.83" stroke="#000" stroke-width="1.2"/>
<line x1="49.7" y1="186.10" x2="51.900000000000006" y2="186.10" stroke="#000" stroke-width="1.2"/>
<line x1="206.1" y1="186.10" x2="203.9" y2="186.10" stroke="#000" stroke-width="1.2"/>
<line x1="49.7" y1="147.37" x2="51.900000000000006" y2="147.37" stroke="#000" stroke-width="1.2"/>
<line x1="206.1" y1="147.37" x2="203.9" y2="147.37" stroke="#000" stroke-width="1.2"/>
<line x1="49.7" y1="108.63" x2="51.900000000000006" y2="108.63" stroke="#000" stroke-width="1.2"/>
<line x1="206.1" y1="108.63" x2="203.9" y2="108.63" stroke="#000" stroke-width="1.2"/>
<line x1="49.7" y1="69.90" x2="51.900000000000006" y2="69.90" stroke="#000" stroke-width="1.2"/>
<line x1="206.1" y1="69.90" x2="203.9" y2="69.90" stroke="#000" stroke-width="1.2"/>
<line x1="49.7" y1="31.17" x2="51.900000000000006" y2="31.17" stroke="#000" stroke-width="1.2"/>
<line x1="206.1" y1="31.17" x2="203.9" y2="31.17" stroke="#000" stroke-width="1.2"/>
<rect x="245.3" y="11.8" width="155.80" height="232.40" fill="none" stroke="#000" stroke-width="1.25"/>
<line x1="297.23" y1="244.2" x2="297.23" y2="240.7" stroke="#000" stroke-width="1.2"/>
<line x1="297.23" y1="11.8" x2="297.23" y2="15.3" stroke="#000" stroke-width="1.2"/>
<line x1="349.17" y1="244.2" x2="349.17" y2="240.7" stroke="#000" stroke-width="1.2"/>
<line x1="349.17" y1="11.8" x2="349.17" y2="15.3" stroke="#000" stroke-width="1.2"/>
<line x1="271.27" y1="244.2" x2="271.27" y2="242.0" stroke="#000" stroke-width="1.2"/>
<line x1="271.27" y1="11.8" x2="271.27" y2="14.0" stroke="#000" stroke-width="1.2"/>
<line x1="323.20" y1="244.2" x2="323.20" y2="242.0" stroke="#000" stroke-width="1.2"/>
<line x1="323.20" y1="11.8" x2="323.20" y2="14.0" stroke="#000" stroke-width="1.2"/>
<line x1="375.13" y1="244.2" x2="375.13" y2="242.0" stroke="#000" stroke-width="1.2"/>
<line x1="375.13" y1="11.8" x2="375.13" y2="14.0" stroke="#000" stroke-width="1.2"/>
<line x1="245.3" y1="235.30" x2="248.8" y2="235.30" stroke="#000" stroke-width="1.2"/>
<line x1="401.1" y1="235.30" x2="397.6" y2="235.30" stroke="#000" stroke-width="1.2"/>
<line x1="245.3" y1="145.90" x2="248.8" y2="145.90" stroke="#000" stroke-width="1.2"/>
<line x1="401.1" y1="145.90" x2="397.6" y2="145.90" stroke="#000" stroke-width="1.2"/>
<line x1="245.3" y1="56.50" x2="248.8" y2="56.50" stroke="#000" stroke-width="1.2"/>
<line x1="401.1" y1="56.50" x2="397.6" y2="56.50" stroke="#000" stroke-width="1.2"/>
<line x1="245.3" y1="190.60" x2="247.5" y2="190.60" stroke="#000" stroke-width="1.2"/>
<line x1="401.1" y1="190.60" x2="398.90000000000003" y2="190.60" stroke="#000" stroke-width="1.2"/>
<line x1="245.3" y1="101.20" x2="247.5" y2="101.20" stroke="#000" stroke-width="1.2"/>
<line x1="401.1" y1="101.20" x2="398.90000000000003" y2="101.20" stroke="#000" stroke-width="1.2"/>
<rect x="440.2" y="11.8" width="77.90" height="232.40" fill="none" stroke="#000" stroke-width="1.25"/>
<line x1="479.15" y1="244.2" x2="479.15" y2="240.7" stroke="#000" stroke-width="1.2"/>
<line x1="479.15" y1="11.8" x2="479.15" y2="15.3" stroke="#000" stroke-width="1.2"/>
<line x1="459.68" y1="244.2" x2="459.68" y2="242.0" stroke="#000" stroke-width="1.2"/>
<line x1="459.68" y1="11.8" x2="459.68" y2="14.0" stroke="#000" stroke-width="1.2"/>
<line x1="498.62" y1="244.2" x2="498.62" y2="242.0" stroke="#000" stroke-width="1.2"/>
<line x1="498.62" y1="11.8" x2="498.62" y2="14.0" stroke="#000" stroke-width="1.2"/>
<line x1="440.2" y1="225.00" x2="443.7" y2="225.00" stroke="#000" stroke-width="1.2"/>
<line x1="518.1" y1="225.00" x2="514.6" y2="225.00" stroke="#000" stroke-width="1.2"/>
<line x1="440.2" y1="186.10" x2="443.7" y2="186.10" stroke="#000" stroke-width="1.2"/>
<line x1="518.1" y1="186.10" x2="514.6" y2="186.10" stroke="#000" stroke-width="1.2"/>
<line x1="440.2" y1="147.20" x2="443.7" y2="147.20" stroke="#000" stroke-width="1.2"/>
<line x1="518.1" y1="147.20" x2="514.6" y2="147.20" stroke="#000" stroke-width="1.2"/>
<line x1="440.2" y1="108.30" x2="443.7" y2="108.30" stroke="#000" stroke-width="1.2"/>
<line x1="518.1" y1="108.30" x2="514.6" y2="108.30" stroke="#000" stroke-width="1.2"/>
<line x1="440.2" y1="69.40" x2="443.7" y2="69.40" stroke="#000" stroke-width="1.2"/>
<line x1="518.1" y1="69.40" x2="514.6" y2="69.40" stroke="#000" stroke-width="1.2"/>
<line x1="440.2" y1="30.50" x2="443.7" y2="30.50" stroke="#000" stroke-width="1.2"/>
<line x1="518.1" y1="30.50" x2="514.6" y2="30.50" stroke="#000" stroke-width="1.2"/>
<line x1="440.2" y1="205.55" x2="442.4" y2="205.55" stroke="#000" stroke-width="1.2"/>
<line x1="518.1" y1="205.55" x2="515.9" y2="205.55" stroke="#000" stroke-width="1.2"/>
<line x1="440.2" y1="166.65" x2="442.4" y2="166.65" stroke="#000" stroke-width="1.2"/>
<line x1="518.1" y1="166.65" x2="515.9" y2="166.65" stroke="#000" stroke-width="1.2"/>
<line x1="440.2" y1="127.75" x2="442.4" y2="127.75" stroke="#000" stroke-width="1.2"/>
<line x1="518.1" y1="127.75" x2="515.9" y2="127.75" stroke="#000" stroke-width="1.2"/>
<line x1="440.2" y1="88.85" x2="442.4" y2="88.85" stroke="#000" stroke-width="1.2"/>
<line x1="518.1" y1="88.85" x2="515.9" y2="88.85" stroke="#000" stroke-width="1.2"/>
<line x1="440.2" y1="49.95" x2="442.4" y2="49.95" stroke="#000" stroke-width="1.2"/>
<line x1="518.1" y1="49.95" x2="515.9" y2="49.95" stroke="#000" stroke-width="1.2"/>
<text x="49.70" y="260.0" font-size="14" text-anchor="middle" >1200</text>
<text x="101.83" y="260.0" font-size="14" text-anchor="middle" >1300</text>
<text x="153.97" y="260.0" font-size="14" text-anchor="middle" >1400</text>
<text x="206.10" y="260.0" font-size="14" text-anchor="middle" >1500</text>
<text x="45.3" y="248.80" font-size="14" text-anchor="end">0</text>
<text x="45.3" y="210.07" font-size="14" text-anchor="end">1</text>
<text x="45.3" y="171.33" font-size="14" text-anchor="end">2</text>
<text x="45.3" y="132.60" font-size="14" text-anchor="end">3</text>
<text x="45.3" y="93.87" font-size="14" text-anchor="end">4</text>
<text x="45.3" y="55.13" font-size="14" text-anchor="end">5</text>
<text x="45.3" y="16.40" font-size="14" text-anchor="end">6</text>
<text x="245.30" y="260.0" font-size="14" text-anchor="middle" >1200</text>
<text x="297.23" y="260.0" font-size="14" text-anchor="middle" >1300</text>
<text x="349.17" y="260.0" font-size="14" text-anchor="middle" >1400</text>
<text x="401.10" y="260.0" font-size="14" text-anchor="middle" >1500</text>
<text x="240.5" y="239.90" font-size="14" text-anchor="end">0</text>
<text x="240.5" y="150.50" font-size="14" text-anchor="end">1</text>
<text x="240.5" y="61.10" font-size="14" text-anchor="end">2</text>
<text x="440.20" y="260.0" font-size="14" text-anchor="middle" >1900</text>
<text x="479.15" y="260.0" font-size="14" text-anchor="middle" >2000</text>
<text x="518.10" y="260.0" font-size="14" text-anchor="middle" >2100</text>
<text x="435" y="229.60" font-size="14" text-anchor="end">0</text>
<text x="435" y="190.70" font-size="14" text-anchor="end">2</text>
<text x="435" y="151.80" font-size="14" text-anchor="end">4</text>
<text x="435" y="112.90" font-size="14" text-anchor="end">6</text>
<text x="435" y="74.00" font-size="14" text-anchor="end">8</text>
<text x="435" y="35.10" font-size="14" text-anchor="end">10</text>
<text x="129.3" y="281.8" font-size="16.8" text-anchor="middle" >Raman shift (cm<tspan font-size="11" dy="-6.5">−1</tspan><tspan dy="6.5">)</tspan></text>
<text x="324.2" y="281.8" font-size="16.8" text-anchor="middle" >Raman shift (cm<tspan font-size="11" dy="-6.5">−1</tspan><tspan dy="6.5">)</tspan></text>
<text x="480.5" y="281.8" font-size="16.8" text-anchor="middle" >Raman shift (cm<tspan font-size="11" dy="-6.5">−1</tspan><tspan dy="6.5">)</tspan></text>
<text transform="translate(28.3,121.5) rotate(-90)" font-size="16.65" text-anchor="middle">Intensity (<tspan font-size="18" dy="1.1">×</tspan><tspan dy="-1.1">10</tspan><tspan font-size="10.5" dy="-7" dx="0.6">4</tspan><tspan dy="7"> a.u.)</tspan></text>
<text transform="translate(224.7,118.7) rotate(-90)" font-size="16.65" text-anchor="middle">Offset Intensity (<tspan font-size="18" dy="1.1">×</tspan><tspan dy="-1.1">10</tspan><tspan font-size="10.5" dy="-7" dx="0.6">5</tspan><tspan dy="7"> a.u.)</tspan></text>
<text transform="translate(419,127.5) rotate(-90)" font-size="16.65" text-anchor="middle">Offset Intensity (<tspan font-size="18" dy="1.1">×</tspan><tspan dy="-1.1">10</tspan><tspan font-size="10.5" dy="-7" dx="0.6">2</tspan><tspan dy="7"> a.u.)</tspan></text>
<text x="51.3" y="26.2" font-size="16" text-anchor="start" >(a)</text>
<text x="248.5" y="26.0" font-size="16" text-anchor="start" >(b)</text>
<text x="443.8" y="27.5" font-size="16.8" text-anchor="start" >(c)</text>
<text x="57.5" y="41.6" font-size="13" text-anchor="start" >Collector angle</text>
<line x1="56.8" y1="53.5" x2="87.5" y2="53.5" stroke="#707070" stroke-width="2"/>
<text x="89.5" y="58.1" font-size="13" text-anchor="start" >45</text>
<line x1="56.8" y1="69.4" x2="87.5" y2="69.4" stroke="#ff1414" stroke-width="2"/>
<text x="89.5" y="74.0" font-size="13" text-anchor="start" >90</text>
<line x1="56.8" y1="85.6" x2="87.5" y2="85.6" stroke="#1a6ee6" stroke-width="2"/>
<text x="89.5" y="90.19999999999999" font-size="13" text-anchor="start" >135</text>
<text transform="translate(116.5,180.6) rotate(-90)" font-size="14" text-anchor="start"><tspan font-size="13">CO</tspan><tspan font-size="9.5" dy="3">2</tspan><tspan dy="-3" dx="3.2">1289 cm</tspan><tspan font-size="10" dy="-6">−1</tspan></text>
<text transform="translate(166.5,116.8) rotate(-90)" font-size="14" text-anchor="start"><tspan font-size="13">CO</tspan><tspan font-size="9.5" dy="3">2</tspan><tspan dy="-3" dx="3.2">1387 cm</tspan><tspan font-size="10" dy="-6">−1</tspan></text>
<text x="293.5" y="26.5" font-size="14">CO<tspan font-size="10" dy="3">2</tspan><tspan dy="-3">-</tspan><tspan fill="#1a1aff">50134.3</tspan> ppm</text>
<text x="261" y="42.8" font-size="11.5">1287 cm<tspan font-size="8" dy="-5.5">−1</tspan></text>
<text x="348.6" y="47.6" font-size="11.5">1389 cm<tspan font-size="8" dy="-5.5">−1</tspan></text>
<text x="296" y="69.7" font-size="9.6" text-anchor="start" >SNR=1773</text>
<text x="296" y="120.5" font-size="9.6" text-anchor="start" >SNR=1517</text>
<text x="296" y="176.3" font-size="9.6" text-anchor="start" >SNR=1650</text>
<text x="296" y="230.7" font-size="9.6" text-anchor="start" >SNR=1122</text>
<text x="398" y="67.5" font-size="13" text-anchor="end" >Mean</text>
<text x="398.6" y="122.5" font-size="13.1" text-anchor="end" >135 deg</text>
<text x="398.6" y="179.6" font-size="13.1" text-anchor="end" >90 deg</text>
<text x="398.6" y="232.3" font-size="13.1" text-anchor="end" >45 deg</text>
<text x="443.3" y="41.9" font-size="9.8">DEV<tspan font-size="7.2" dy="2.4" dx="0.2">mean</tspan><tspan dy="-2.4" dx="-1.0">=28.4</tspan></text>
<text x="443.3" y="88.9" font-size="9.8">DEV<tspan font-size="7.2" dy="2.4" dx="0.2">135</tspan><tspan dy="-2.4" dx="-1.0">=38.2</tspan></text>
<text x="443.3" y="146.4" font-size="9.8">DEV<tspan font-size="7.2" dy="2.4" dx="0.2">90</tspan><tspan dy="-2.4" dx="-1.0">=25.1</tspan></text>
<text x="443.3" y="200.8" font-size="9.8">DEV<tspan font-size="7.2" dy="2.4" dx="0.2">45</tspan><tspan dy="-2.4" dx="-1.0">=46.3</tspan></text></svg>
</body></html>
